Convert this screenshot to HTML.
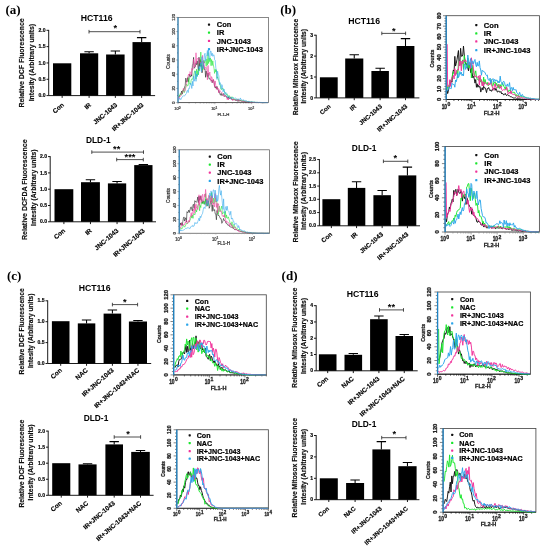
<!DOCTYPE html>
<html><head><meta charset="utf-8"><title>Figure</title>
<style>html,body{margin:0;padding:0;background:#fff}svg{display:block;filter:blur(0.3px)}text{font-family:"Liberation Sans", Arial, sans-serif}text.pl{font-family:"Liberation Serif","DejaVu Serif",serif;font-size:13px;font-weight:bold}</style></head>
<body><svg width="546" height="550" viewBox="0 0 546 550">
<rect width="546" height="550" fill="#fff"/>
<text x="96.7" y="21.2" font-size="8.7" font-weight="bold" text-anchor="middle">HCT116</text>
<rect x="53" y="63.3" width="18.3" height="32.3" fill="#000"/>
<path d="M62.15 95.6V97.9" stroke="#000" stroke-width="0.9"/>
<rect x="80" y="53.3" width="18.2" height="42.3" fill="#000"/>
<path d="M89.1 53.3V51.8M84.4 51.8H93.8" stroke="#000" stroke-width="1.05" fill="none"/>
<path d="M89.1 95.6V97.9" stroke="#000" stroke-width="0.9"/>
<rect x="106.1" y="54.5" width="18.5" height="41.1" fill="#000"/>
<path d="M115.35 54.5V50.9M110.65 50.9H120.05" stroke="#000" stroke-width="1.05" fill="none"/>
<path d="M115.35 95.6V97.9" stroke="#000" stroke-width="0.9"/>
<rect x="132.5" y="42.1" width="18.3" height="53.5" fill="#000"/>
<path d="M141.65 42.1V37.6M136.95 37.6H146.35" stroke="#000" stroke-width="1.05" fill="none"/>
<path d="M141.65 95.6V97.9" stroke="#000" stroke-width="0.9"/>
<path d="M48.7 29.92V95.6H155.1" stroke="#000" stroke-width="0.9" fill="none"/>
<path d="M46.5 95.6H48.7" stroke="#000" stroke-width="0.9"/>
<text x="45.5" y="97.2" font-size="5.1" font-weight="bold" text-anchor="end" stroke="#000" stroke-width="0.15">0.0</text>
<path d="M46.5 79.28H48.7" stroke="#000" stroke-width="0.9"/>
<text x="45.5" y="80.88" font-size="5.1" font-weight="bold" text-anchor="end" stroke="#000" stroke-width="0.15">0.5</text>
<path d="M46.5 62.96H48.7" stroke="#000" stroke-width="0.9"/>
<text x="45.5" y="64.56" font-size="5.1" font-weight="bold" text-anchor="end" stroke="#000" stroke-width="0.15">1.0</text>
<path d="M46.5 46.64H48.7" stroke="#000" stroke-width="0.9"/>
<text x="45.5" y="48.24" font-size="5.1" font-weight="bold" text-anchor="end" stroke="#000" stroke-width="0.15">1.5</text>
<path d="M46.5 30.32H48.7" stroke="#000" stroke-width="0.9"/>
<text x="45.5" y="31.92" font-size="5.1" font-weight="bold" text-anchor="end" stroke="#000" stroke-width="0.15">2.0</text>
<text transform="translate(64.55 105.6) rotate(-41)" font-size="6.45" font-weight="bold" text-anchor="end" stroke="#000" stroke-width="0.15">Con</text>
<text transform="translate(91.5 105.6) rotate(-41)" font-size="6.45" font-weight="bold" text-anchor="end" stroke="#000" stroke-width="0.15">IR</text>
<text transform="translate(117.75 105.6) rotate(-41)" font-size="6.45" font-weight="bold" text-anchor="end" stroke="#000" stroke-width="0.15">JNC-1043</text>
<text transform="translate(144.05 105.6) rotate(-41)" font-size="6.45" font-weight="bold" text-anchor="end" stroke="#000" stroke-width="0.15">IR+JNC-1043</text>
<text transform="translate(24.4 63) rotate(-90)" font-size="7.2" font-weight="bold" text-anchor="middle" textLength="89.2" lengthAdjust="spacingAndGlyphs" fill="#111" stroke="#111" stroke-width="0.18">Relative DCF Fluorescence</text>
<text transform="translate(33.5 62.6) rotate(-90)" font-size="7.2" font-weight="bold" text-anchor="middle" textLength="77.4" lengthAdjust="spacingAndGlyphs" fill="#111" stroke="#111" stroke-width="0.18">Intesity (Arbitrary units)</text>
<path d="M89 31.7H140M89 29.9V33.5M140 29.9V33.5" stroke="#222" stroke-width="0.8" fill="none"/>
<text x="115.4" y="30.9" font-size="9.3" font-weight="bold" text-anchor="middle">*</text>
<text x="98.3" y="143.1" font-size="8.4" font-weight="bold" text-anchor="middle">DLD-1</text>
<rect x="54.5" y="189.2" width="18.8" height="32.6" fill="#000"/>
<path d="M63.9 221.8V224.1" stroke="#000" stroke-width="0.9"/>
<rect x="81" y="182.2" width="18.9" height="39.6" fill="#000"/>
<path d="M90.45 182.2V179.7M85.75 179.7H95.15" stroke="#000" stroke-width="1.05" fill="none"/>
<path d="M90.45 221.8V224.1" stroke="#000" stroke-width="0.9"/>
<rect x="107.9" y="183.4" width="18.3" height="38.4" fill="#000"/>
<path d="M117.05 183.4V181.4M112.35 181.4H121.75" stroke="#000" stroke-width="1.05" fill="none"/>
<path d="M117.05 221.8V224.1" stroke="#000" stroke-width="0.9"/>
<rect x="134.2" y="165.1" width="18.3" height="56.7" fill="#000"/>
<path d="M143.35 165.1V164.5M138.65 164.5H148.05" stroke="#000" stroke-width="1.05" fill="none"/>
<path d="M143.35 221.8V224.1" stroke="#000" stroke-width="0.9"/>
<path d="M50.2 156.2V221.8H156" stroke="#000" stroke-width="0.9" fill="none"/>
<path d="M48 221.8H50.2" stroke="#000" stroke-width="0.9"/>
<text x="47" y="223.4" font-size="5.1" font-weight="bold" text-anchor="end" stroke="#000" stroke-width="0.15">0.0</text>
<path d="M48 205.5H50.2" stroke="#000" stroke-width="0.9"/>
<text x="47" y="207.1" font-size="5.1" font-weight="bold" text-anchor="end" stroke="#000" stroke-width="0.15">0.5</text>
<path d="M48 189.2H50.2" stroke="#000" stroke-width="0.9"/>
<text x="47" y="190.8" font-size="5.1" font-weight="bold" text-anchor="end" stroke="#000" stroke-width="0.15">1.0</text>
<path d="M48 172.9H50.2" stroke="#000" stroke-width="0.9"/>
<text x="47" y="174.5" font-size="5.1" font-weight="bold" text-anchor="end" stroke="#000" stroke-width="0.15">1.5</text>
<path d="M48 156.6H50.2" stroke="#000" stroke-width="0.9"/>
<text x="47" y="158.2" font-size="5.1" font-weight="bold" text-anchor="end" stroke="#000" stroke-width="0.15">2.0</text>
<text transform="translate(65.8 231.4) rotate(-41)" font-size="6.45" font-weight="bold" text-anchor="end" stroke="#000" stroke-width="0.15">Con</text>
<text transform="translate(92.35 231.4) rotate(-41)" font-size="6.45" font-weight="bold" text-anchor="end" stroke="#000" stroke-width="0.15">IR</text>
<text transform="translate(118.95 231.4) rotate(-41)" font-size="6.45" font-weight="bold" text-anchor="end" stroke="#000" stroke-width="0.15">JNC-1043</text>
<text transform="translate(145.25 231.4) rotate(-41)" font-size="6.45" font-weight="bold" text-anchor="end" stroke="#000" stroke-width="0.15">IR+JNC-1043</text>
<text transform="translate(26.8 189.7) rotate(-90)" font-size="7.2" font-weight="bold" text-anchor="middle" textLength="100.6" lengthAdjust="spacingAndGlyphs" fill="#111" stroke="#111" stroke-width="0.18">Relative DCFDA Fluorescence</text>
<text transform="translate(36.1 187.8) rotate(-90)" font-size="7.2" font-weight="bold" text-anchor="middle" textLength="76.4" lengthAdjust="spacingAndGlyphs" fill="#111" stroke="#111" stroke-width="0.18">Intesity (Arbitrary units)</text>
<path d="M91.8 152.1H143.5M91.8 150.3V153.9M143.5 150.3V153.9" stroke="#222" stroke-width="0.8" fill="none"/>
<text x="116.7" y="151.9" font-size="9.3" font-weight="bold" text-anchor="middle">**</text>
<path d="M116.7 159.6H143.3M116.7 157.8V161.4M143.3 157.8V161.4" stroke="#222" stroke-width="0.8" fill="none"/>
<text x="130" y="159.7" font-size="9.3" font-weight="bold" text-anchor="middle">***</text>
<text x="364.1" y="23.5" font-size="8.7" font-weight="bold" text-anchor="middle">HCT116</text>
<rect x="319.9" y="77.3" width="17.8" height="20.6" fill="#000"/>
<path d="M328.8 97.9V100.2" stroke="#000" stroke-width="0.9"/>
<rect x="345.2" y="58.5" width="18.1" height="39.4" fill="#000"/>
<path d="M354.25 58.5V54.7M349.55 54.7H358.95" stroke="#000" stroke-width="1.05" fill="none"/>
<path d="M354.25 97.9V100.2" stroke="#000" stroke-width="0.9"/>
<rect x="371.4" y="71" width="17.5" height="26.9" fill="#000"/>
<path d="M380.15 71V68.3M375.45 68.3H384.85" stroke="#000" stroke-width="1.05" fill="none"/>
<path d="M380.15 97.9V100.2" stroke="#000" stroke-width="0.9"/>
<rect x="396.6" y="46" width="17.8" height="51.9" fill="#000"/>
<path d="M405.5 46V38.6M400.8 38.6H410.2" stroke="#000" stroke-width="1.05" fill="none"/>
<path d="M405.5 97.9V100.2" stroke="#000" stroke-width="0.9"/>
<path d="M316.2 34.8V97.9H419.4" stroke="#000" stroke-width="0.9" fill="none"/>
<path d="M314 97.9H316.2" stroke="#000" stroke-width="0.9"/>
<text x="313" y="99.5" font-size="5.1" font-weight="bold" text-anchor="end" stroke="#000" stroke-width="0.15">0</text>
<path d="M314 77H316.2" stroke="#000" stroke-width="0.9"/>
<text x="313" y="78.6" font-size="5.1" font-weight="bold" text-anchor="end" stroke="#000" stroke-width="0.15">1</text>
<path d="M314 56.1H316.2" stroke="#000" stroke-width="0.9"/>
<text x="313" y="57.7" font-size="5.1" font-weight="bold" text-anchor="end" stroke="#000" stroke-width="0.15">2</text>
<path d="M314 35.2H316.2" stroke="#000" stroke-width="0.9"/>
<text x="313" y="36.8" font-size="5.1" font-weight="bold" text-anchor="end" stroke="#000" stroke-width="0.15">3</text>
<text transform="translate(331.2 107.1) rotate(-41)" font-size="6.2" font-weight="bold" text-anchor="end" stroke="#000" stroke-width="0.15">Con</text>
<text transform="translate(356.65 107.1) rotate(-41)" font-size="6.2" font-weight="bold" text-anchor="end" stroke="#000" stroke-width="0.15">IR</text>
<text transform="translate(382.55 107.1) rotate(-41)" font-size="6.2" font-weight="bold" text-anchor="end" stroke="#000" stroke-width="0.15">JNC-1043</text>
<text transform="translate(407.9 107.1) rotate(-41)" font-size="6.2" font-weight="bold" text-anchor="end" stroke="#000" stroke-width="0.15">IR+JNC-1043</text>
<text transform="translate(297.7 67) rotate(-90)" font-size="7.2" font-weight="bold" text-anchor="middle" textLength="96.4" lengthAdjust="spacingAndGlyphs" fill="#111" stroke="#111" stroke-width="0.18">Relative Mitosox Fluorescence</text>
<text transform="translate(305.7 66.3) rotate(-90)" font-size="7.2" font-weight="bold" text-anchor="middle" textLength="74.4" lengthAdjust="spacingAndGlyphs" fill="#111" stroke="#111" stroke-width="0.18">Intesity (Arbitrary units)</text>
<path d="M381.8 33.4H405.6M381.8 31.6V35.2M405.6 31.6V35.2" stroke="#222" stroke-width="0.8" fill="none"/>
<text x="393.8" y="34.2" font-size="9.3" font-weight="bold" text-anchor="middle">*</text>
<text x="364.2" y="151.4" font-size="8.4" font-weight="bold" text-anchor="middle">DLD-1</text>
<rect x="322.4" y="199.2" width="17.9" height="26.6" fill="#000"/>
<path d="M331.35 225.8V228.1" stroke="#000" stroke-width="0.9"/>
<rect x="347.8" y="187.9" width="17.5" height="37.9" fill="#000"/>
<path d="M356.55 187.9V181.7M351.85 181.7H361.25" stroke="#000" stroke-width="1.05" fill="none"/>
<path d="M356.55 225.8V228.1" stroke="#000" stroke-width="0.9"/>
<rect x="373.4" y="195.2" width="17.5" height="30.6" fill="#000"/>
<path d="M382.15 195.2V190.4M377.45 190.4H386.85" stroke="#000" stroke-width="1.05" fill="none"/>
<path d="M382.15 225.8V228.1" stroke="#000" stroke-width="0.9"/>
<rect x="398.5" y="175.4" width="17.8" height="50.4" fill="#000"/>
<path d="M407.4 175.4V167.1M402.7 167.1H412.1" stroke="#000" stroke-width="1.05" fill="none"/>
<path d="M407.4 225.8V228.1" stroke="#000" stroke-width="0.9"/>
<path d="M319.4 159.15V225.8H420" stroke="#000" stroke-width="0.9" fill="none"/>
<path d="M317.2 225.8H319.4" stroke="#000" stroke-width="0.9"/>
<text x="316.2" y="227.4" font-size="5.1" font-weight="bold" text-anchor="end" stroke="#000" stroke-width="0.15">0.0</text>
<path d="M317.2 212.55H319.4" stroke="#000" stroke-width="0.9"/>
<text x="316.2" y="214.15" font-size="5.1" font-weight="bold" text-anchor="end" stroke="#000" stroke-width="0.15">0.5</text>
<path d="M317.2 199.3H319.4" stroke="#000" stroke-width="0.9"/>
<text x="316.2" y="200.9" font-size="5.1" font-weight="bold" text-anchor="end" stroke="#000" stroke-width="0.15">1.0</text>
<path d="M317.2 186.05H319.4" stroke="#000" stroke-width="0.9"/>
<text x="316.2" y="187.65" font-size="5.1" font-weight="bold" text-anchor="end" stroke="#000" stroke-width="0.15">1.5</text>
<path d="M317.2 172.8H319.4" stroke="#000" stroke-width="0.9"/>
<text x="316.2" y="174.4" font-size="5.1" font-weight="bold" text-anchor="end" stroke="#000" stroke-width="0.15">2.0</text>
<path d="M317.2 159.55H319.4" stroke="#000" stroke-width="0.9"/>
<text x="316.2" y="161.15" font-size="5.1" font-weight="bold" text-anchor="end" stroke="#000" stroke-width="0.15">2.5</text>
<text transform="translate(332.75 235) rotate(-41)" font-size="6.3" font-weight="bold" text-anchor="end" stroke="#000" stroke-width="0.15">Con</text>
<text transform="translate(357.95 235) rotate(-41)" font-size="6.3" font-weight="bold" text-anchor="end" stroke="#000" stroke-width="0.15">IR</text>
<text transform="translate(383.55 235) rotate(-41)" font-size="6.3" font-weight="bold" text-anchor="end" stroke="#000" stroke-width="0.15">JNC-1043</text>
<text transform="translate(408.8 235) rotate(-41)" font-size="6.3" font-weight="bold" text-anchor="end" stroke="#000" stroke-width="0.15">IR+JNC-1043</text>
<text transform="translate(297.8 192) rotate(-90)" font-size="7.2" font-weight="bold" text-anchor="middle" textLength="101.2" lengthAdjust="spacingAndGlyphs" fill="#111" stroke="#111" stroke-width="0.18">Relative Mitosox Fluorescence</text>
<text transform="translate(305.7 191) rotate(-90)" font-size="7.2" font-weight="bold" text-anchor="middle" textLength="78" lengthAdjust="spacingAndGlyphs" fill="#111" stroke="#111" stroke-width="0.18">Intesity (Arbitrary units)</text>
<path d="M383.4 161.3H407.8M383.4 159.5V163.1M407.8 159.5V163.1" stroke="#222" stroke-width="0.8" fill="none"/>
<text x="395.2" y="161.2" font-size="9.3" font-weight="bold" text-anchor="middle">*</text>
<text x="94.6" y="290.9" font-size="8.7" font-weight="bold" text-anchor="middle">HCT116</text>
<rect x="51.9" y="321.2" width="17.6" height="42.3" fill="#000"/>
<path d="M60.7 363.5V365.8" stroke="#000" stroke-width="0.9"/>
<rect x="77.8" y="323.4" width="17.5" height="40.1" fill="#000"/>
<path d="M86.55 323.4V319.9M81.85 319.9H91.25" stroke="#000" stroke-width="1.05" fill="none"/>
<path d="M86.55 363.5V365.8" stroke="#000" stroke-width="0.9"/>
<rect x="103.6" y="313.6" width="17.6" height="49.9" fill="#000"/>
<path d="M112.4 313.6V309.9M107.7 309.9H117.1" stroke="#000" stroke-width="1.05" fill="none"/>
<path d="M112.4 363.5V365.8" stroke="#000" stroke-width="0.9"/>
<rect x="128.9" y="321.5" width="18.1" height="42" fill="#000"/>
<path d="M137.95 321.5V320.5M133.25 320.5H142.65" stroke="#000" stroke-width="1.05" fill="none"/>
<path d="M137.95 363.5V365.8" stroke="#000" stroke-width="0.9"/>
<path d="M47.7 300.4V363.5H151.2" stroke="#000" stroke-width="0.9" fill="none"/>
<path d="M45.5 363.5H47.7" stroke="#000" stroke-width="0.9"/>
<text x="44.5" y="365.1" font-size="5.1" font-weight="bold" text-anchor="end" stroke="#000" stroke-width="0.15">0.0</text>
<path d="M45.5 342.6H47.7" stroke="#000" stroke-width="0.9"/>
<text x="44.5" y="344.2" font-size="5.1" font-weight="bold" text-anchor="end" stroke="#000" stroke-width="0.15">0.5</text>
<path d="M45.5 321.7H47.7" stroke="#000" stroke-width="0.9"/>
<text x="44.5" y="323.3" font-size="5.1" font-weight="bold" text-anchor="end" stroke="#000" stroke-width="0.15">1.0</text>
<path d="M45.5 300.8H47.7" stroke="#000" stroke-width="0.9"/>
<text x="44.5" y="302.4" font-size="5.1" font-weight="bold" text-anchor="end" stroke="#000" stroke-width="0.15">1.5</text>
<text transform="translate(62.4 371) rotate(-41)" font-size="6.45" font-weight="bold" text-anchor="end" stroke="#000" stroke-width="0.15">Con</text>
<text transform="translate(88.25 371) rotate(-41)" font-size="6.45" font-weight="bold" text-anchor="end" stroke="#000" stroke-width="0.15">NAC</text>
<text transform="translate(114.1 371) rotate(-41)" font-size="6.45" font-weight="bold" text-anchor="end" stroke="#000" stroke-width="0.15">IR+JNC-1043</text>
<text transform="translate(139.65 371) rotate(-41)" font-size="6.45" font-weight="bold" text-anchor="end" stroke="#000" stroke-width="0.15">IR+JNC-1043+NAC</text>
<text transform="translate(24.4 331.4) rotate(-90)" font-size="7.2" font-weight="bold" text-anchor="middle" textLength="86" lengthAdjust="spacingAndGlyphs" fill="#111" stroke="#111" stroke-width="0.18">Relative DCF Fluorescence</text>
<text transform="translate(32.8 330.8) rotate(-90)" font-size="7.2" font-weight="bold" text-anchor="middle" textLength="74.4" lengthAdjust="spacingAndGlyphs" fill="#111" stroke="#111" stroke-width="0.18">Intesity (Arbitrary units)</text>
<path d="M112.4 304.6H137.6M112.4 302.8V306.4M137.6 302.8V306.4" stroke="#222" stroke-width="0.8" fill="none"/>
<text x="124.7" y="304.8" font-size="9.3" font-weight="bold" text-anchor="middle">*</text>
<text x="96" y="420.9" font-size="8.4" font-weight="bold" text-anchor="middle">DLD-1</text>
<rect x="52.2" y="463.2" width="18.1" height="32.1" fill="#000"/>
<path d="M61.25 495.3V497.6" stroke="#000" stroke-width="0.9"/>
<rect x="78.5" y="464.4" width="18.1" height="30.9" fill="#000"/>
<path d="M87.55 464.4V463.7M82.85 463.7H92.25" stroke="#000" stroke-width="1.05" fill="none"/>
<path d="M87.55 495.3V497.6" stroke="#000" stroke-width="0.9"/>
<rect x="105.4" y="444.4" width="17.6" height="50.9" fill="#000"/>
<path d="M114.2 444.4V441.6M109.5 441.6H118.9" stroke="#000" stroke-width="1.05" fill="none"/>
<path d="M114.2 495.3V497.6" stroke="#000" stroke-width="0.9"/>
<rect x="131.2" y="451.9" width="18.6" height="43.4" fill="#000"/>
<path d="M140.5 451.9V450.4M135.8 450.4H145.2" stroke="#000" stroke-width="1.05" fill="none"/>
<path d="M140.5 495.3V497.6" stroke="#000" stroke-width="0.9"/>
<path d="M48.2 430.7V495.3H153.6" stroke="#000" stroke-width="0.9" fill="none"/>
<path d="M46 495.3H48.2" stroke="#000" stroke-width="0.9"/>
<text x="45" y="496.9" font-size="5.1" font-weight="bold" text-anchor="end" stroke="#000" stroke-width="0.15">0.0</text>
<path d="M46 479.25H48.2" stroke="#000" stroke-width="0.9"/>
<text x="45" y="480.85" font-size="5.1" font-weight="bold" text-anchor="end" stroke="#000" stroke-width="0.15">0.5</text>
<path d="M46 463.2H48.2" stroke="#000" stroke-width="0.9"/>
<text x="45" y="464.8" font-size="5.1" font-weight="bold" text-anchor="end" stroke="#000" stroke-width="0.15">1.0</text>
<path d="M46 447.15H48.2" stroke="#000" stroke-width="0.9"/>
<text x="45" y="448.75" font-size="5.1" font-weight="bold" text-anchor="end" stroke="#000" stroke-width="0.15">1.5</text>
<path d="M46 431.1H48.2" stroke="#000" stroke-width="0.9"/>
<text x="45" y="432.7" font-size="5.1" font-weight="bold" text-anchor="end" stroke="#000" stroke-width="0.15">2.0</text>
<text transform="translate(62.45 503.9) rotate(-41)" font-size="6.45" font-weight="bold" text-anchor="end" stroke="#000" stroke-width="0.15">Con</text>
<text transform="translate(88.75 503.9) rotate(-41)" font-size="6.45" font-weight="bold" text-anchor="end" stroke="#000" stroke-width="0.15">NAC</text>
<text transform="translate(115.4 503.9) rotate(-41)" font-size="6.45" font-weight="bold" text-anchor="end" stroke="#000" stroke-width="0.15">IR+JNC-1043</text>
<text transform="translate(141.7 503.9) rotate(-41)" font-size="6.45" font-weight="bold" text-anchor="end" stroke="#000" stroke-width="0.15">IR+JNC-1043+NAC</text>
<text transform="translate(24.3 463.6) rotate(-90)" font-size="7.2" font-weight="bold" text-anchor="middle" textLength="88" lengthAdjust="spacingAndGlyphs" fill="#111" stroke="#111" stroke-width="0.18">Relative DCF Fluorescence</text>
<text transform="translate(33.4 462.4) rotate(-90)" font-size="7.2" font-weight="bold" text-anchor="middle" textLength="76" lengthAdjust="spacingAndGlyphs" fill="#111" stroke="#111" stroke-width="0.18">Intesity (Arbitrary units)</text>
<path d="M114.2 437H140.6M114.2 435.2V438.8M140.6 435.2V438.8" stroke="#222" stroke-width="0.8" fill="none"/>
<text x="128" y="437.2" font-size="9.3" font-weight="bold" text-anchor="middle">*</text>
<text x="362.6" y="296.9" font-size="8.7" font-weight="bold" text-anchor="middle">HCT116</text>
<rect x="318.9" y="354.3" width="17.6" height="16.5" fill="#000"/>
<path d="M327.7 370.8V373.1" stroke="#000" stroke-width="0.9"/>
<rect x="344.5" y="354.8" width="17.6" height="16" fill="#000"/>
<path d="M353.3 354.8V353.5M348.6 353.5H358" stroke="#000" stroke-width="1.05" fill="none"/>
<path d="M353.3 370.8V373.1" stroke="#000" stroke-width="0.9"/>
<rect x="370.1" y="319.2" width="17.6" height="51.6" fill="#000"/>
<path d="M378.9 319.2V315.9M374.2 315.9H383.6" stroke="#000" stroke-width="1.05" fill="none"/>
<path d="M378.9 370.8V373.1" stroke="#000" stroke-width="0.9"/>
<rect x="395.5" y="336" width="17.5" height="34.8" fill="#000"/>
<path d="M404.25 336V334.5M399.55 334.5H408.95" stroke="#000" stroke-width="1.05" fill="none"/>
<path d="M404.25 370.8V373.1" stroke="#000" stroke-width="0.9"/>
<path d="M316.2 305.28V370.8H417.7" stroke="#000" stroke-width="0.9" fill="none"/>
<path d="M314 370.8H316.2" stroke="#000" stroke-width="0.9"/>
<text x="313" y="372.4" font-size="5.1" font-weight="bold" text-anchor="end" stroke="#000" stroke-width="0.15">0</text>
<path d="M314 354.52H316.2" stroke="#000" stroke-width="0.9"/>
<text x="313" y="356.12" font-size="5.1" font-weight="bold" text-anchor="end" stroke="#000" stroke-width="0.15">1</text>
<path d="M314 338.24H316.2" stroke="#000" stroke-width="0.9"/>
<text x="313" y="339.84" font-size="5.1" font-weight="bold" text-anchor="end" stroke="#000" stroke-width="0.15">2</text>
<path d="M314 321.96H316.2" stroke="#000" stroke-width="0.9"/>
<text x="313" y="323.56" font-size="5.1" font-weight="bold" text-anchor="end" stroke="#000" stroke-width="0.15">3</text>
<path d="M314 305.68H316.2" stroke="#000" stroke-width="0.9"/>
<text x="313" y="307.28" font-size="5.1" font-weight="bold" text-anchor="end" stroke="#000" stroke-width="0.15">4</text>
<text transform="translate(328.7 379.4) rotate(-41)" font-size="6.45" font-weight="bold" text-anchor="end" stroke="#000" stroke-width="0.15">Con</text>
<text transform="translate(354.3 379.4) rotate(-41)" font-size="6.45" font-weight="bold" text-anchor="end" stroke="#000" stroke-width="0.15">NAC</text>
<text transform="translate(379.9 379.4) rotate(-41)" font-size="6.45" font-weight="bold" text-anchor="end" stroke="#000" stroke-width="0.15">IR+JNC-1043</text>
<text transform="translate(405.25 379.4) rotate(-41)" font-size="6.45" font-weight="bold" text-anchor="end" stroke="#000" stroke-width="0.15">IR+JNC-1043+NAC</text>
<text transform="translate(297.3 337.8) rotate(-90)" font-size="7.2" font-weight="bold" text-anchor="middle" textLength="100.4" lengthAdjust="spacingAndGlyphs" fill="#111" stroke="#111" stroke-width="0.18">Relative Mitosox Fluorescence</text>
<text transform="translate(305.7 336) rotate(-90)" font-size="7.2" font-weight="bold" text-anchor="middle" textLength="76" lengthAdjust="spacingAndGlyphs" fill="#111" stroke="#111" stroke-width="0.18">Intesity (Arbitrary units)</text>
<path d="M379.5 309.9H403.5M379.5 308.1V311.7M403.5 308.1V311.7" stroke="#222" stroke-width="0.8" fill="none"/>
<text x="391.4" y="310.1" font-size="9.3" font-weight="bold" text-anchor="middle">**</text>
<text x="364" y="427.4" font-size="8.4" font-weight="bold" text-anchor="middle">DLD-1</text>
<rect x="319.8" y="478.3" width="18" height="21.4" fill="#000"/>
<path d="M328.8 499.7V502" stroke="#000" stroke-width="0.9"/>
<rect x="346.1" y="483" width="18" height="16.7" fill="#000"/>
<path d="M355.1 483V480M350.4 480H359.8" stroke="#000" stroke-width="1.05" fill="none"/>
<path d="M355.1 499.7V502" stroke="#000" stroke-width="0.9"/>
<rect x="372.4" y="449.4" width="17.9" height="50.3" fill="#000"/>
<path d="M381.35 449.4V441.6M376.65 441.6H386.05" stroke="#000" stroke-width="1.05" fill="none"/>
<path d="M381.35 499.7V502" stroke="#000" stroke-width="0.9"/>
<rect x="398.3" y="466.2" width="18.3" height="33.5" fill="#000"/>
<path d="M407.45 466.2V462.4M402.75 462.4H412.15" stroke="#000" stroke-width="1.05" fill="none"/>
<path d="M407.45 499.7V502" stroke="#000" stroke-width="0.9"/>
<path d="M316.2 435.1V499.7H419.4" stroke="#000" stroke-width="0.9" fill="none"/>
<path d="M314 499.7H316.2" stroke="#000" stroke-width="0.9"/>
<text x="313" y="501.3" font-size="5.1" font-weight="bold" text-anchor="end" stroke="#000" stroke-width="0.15">0</text>
<path d="M314 478.3H316.2" stroke="#000" stroke-width="0.9"/>
<text x="313" y="479.9" font-size="5.1" font-weight="bold" text-anchor="end" stroke="#000" stroke-width="0.15">1</text>
<path d="M314 456.9H316.2" stroke="#000" stroke-width="0.9"/>
<text x="313" y="458.5" font-size="5.1" font-weight="bold" text-anchor="end" stroke="#000" stroke-width="0.15">2</text>
<path d="M314 435.5H316.2" stroke="#000" stroke-width="0.9"/>
<text x="313" y="437.1" font-size="5.1" font-weight="bold" text-anchor="end" stroke="#000" stroke-width="0.15">3</text>
<text transform="translate(329.7 509.3) rotate(-41)" font-size="6.2" font-weight="bold" text-anchor="end" stroke="#000" stroke-width="0.15">Con</text>
<text transform="translate(356 509.3) rotate(-41)" font-size="6.2" font-weight="bold" text-anchor="end" stroke="#000" stroke-width="0.15">NAC</text>
<text transform="translate(382.25 509.3) rotate(-41)" font-size="6.2" font-weight="bold" text-anchor="end" stroke="#000" stroke-width="0.15">IR+JNC-1043</text>
<text transform="translate(408.35 509.3) rotate(-41)" font-size="6.2" font-weight="bold" text-anchor="end" stroke="#000" stroke-width="0.15">IR+JNC-1043+NAC</text>
<text transform="translate(297.3 467.7) rotate(-90)" font-size="7.2" font-weight="bold" text-anchor="middle" textLength="99.4" lengthAdjust="spacingAndGlyphs" fill="#111" stroke="#111" stroke-width="0.18">Relative Mitosox Fluorescence</text>
<text transform="translate(305.7 466.8) rotate(-90)" font-size="7.2" font-weight="bold" text-anchor="middle" textLength="75.8" lengthAdjust="spacingAndGlyphs" fill="#111" stroke="#111" stroke-width="0.18">Intesity (Arbitrary units)</text>
<path d="M381.7 437.7H406M381.7 435.9V439.5M406 435.9V439.5" stroke="#222" stroke-width="0.8" fill="none"/>
<text x="394.2" y="436.9" font-size="9.3" font-weight="bold" text-anchor="middle">*</text>
<rect x="178" y="17.4" width="90.4" height="85.2" fill="#fff" stroke="#606060" stroke-width="0.75"/>
<path d="M178 102.6H268.4" stroke="#444" stroke-width="0.6"/>
<path d="M178 102.6v1.6M189.09 102.6v0.9M195.58 102.6v0.9M200.19 102.6v0.9M203.76 102.6v0.9M206.67 102.6v0.9M209.14 102.6v0.9M211.28 102.6v0.9M213.16 102.6v0.9M214.85 102.6v1.6M225.94 102.6v0.9M232.43 102.6v0.9M237.04 102.6v0.9M240.61 102.6v0.9M243.52 102.6v0.9M245.99 102.6v0.9M248.13 102.6v0.9M250.01 102.6v0.9M251.7 102.6v1.6M262.79 102.6v0.9" stroke="#444" stroke-width="0.4" fill="none"/>
<text x="178.6" y="110.2" font-size="4.3" text-anchor="end" textLength="4.3" lengthAdjust="spacingAndGlyphs" fill="#333" stroke="#333" stroke-width="0.22">10</text>
<text x="178.7" y="108.65" font-size="3.44" text-anchor="start" textLength="1.72" lengthAdjust="spacingAndGlyphs" fill="#333" stroke="#333" stroke-width="0.22">0</text>
<text x="215.45" y="110.2" font-size="4.3" text-anchor="end" textLength="4.3" lengthAdjust="spacingAndGlyphs" fill="#333" stroke="#333" stroke-width="0.22">10</text>
<text x="215.55" y="108.65" font-size="3.44" text-anchor="start" textLength="1.72" lengthAdjust="spacingAndGlyphs" fill="#333" stroke="#333" stroke-width="0.22">1</text>
<text x="252.3" y="110.2" font-size="4.3" text-anchor="end" textLength="4.3" lengthAdjust="spacingAndGlyphs" fill="#333" stroke="#333" stroke-width="0.22">10</text>
<text x="252.4" y="108.65" font-size="3.44" text-anchor="start" textLength="1.72" lengthAdjust="spacingAndGlyphs" fill="#333" stroke="#333" stroke-width="0.22">2</text>
<text x="223.4" y="115.8" font-size="4.3" text-anchor="middle" fill="#333" stroke="#333" stroke-width="0.22">FL1-H</text>
<text transform="translate(174.6 102.6) rotate(-90)" font-size="3.96" text-anchor="middle" fill="#333" stroke="#333" stroke-width="0.22">0</text>
<text transform="translate(174.6 88.4) rotate(-90)" font-size="3.96" text-anchor="middle" fill="#333" stroke="#333" stroke-width="0.22">20</text>
<text transform="translate(174.6 74.2) rotate(-90)" font-size="3.96" text-anchor="middle" fill="#333" stroke="#333" stroke-width="0.22">40</text>
<text transform="translate(174.6 60) rotate(-90)" font-size="3.96" text-anchor="middle" fill="#333" stroke="#333" stroke-width="0.22">60</text>
<text transform="translate(174.6 45.8) rotate(-90)" font-size="3.96" text-anchor="middle" fill="#333" stroke="#333" stroke-width="0.22">80</text>
<text transform="translate(174.6 31.6) rotate(-90)" font-size="3.96" text-anchor="middle" fill="#333" stroke="#333" stroke-width="0.22">100</text>
<text transform="translate(174.6 17.4) rotate(-90)" font-size="3.96" text-anchor="middle" fill="#333" stroke="#333" stroke-width="0.22">120</text>
<path d="M176.2 102.6H178M177 95.5H178M176.2 88.4H178M177 81.3H178M176.2 74.2H178M177 67.1H178M176.2 60H178M177 52.9H178M176.2 45.8H178M177 38.7H178M176.2 31.6H178M177 24.5H178M176.2 17.4H178" stroke="#333" stroke-width="0.4" fill="none"/>
<text transform="translate(170 61.5) rotate(-90)" font-size="4.51" text-anchor="middle" fill="#333" stroke="#333" stroke-width="0.22">Counts</text>
<path d="M178.7 97.03 179.2 96.72 179.8 95.43 180.4 94.83 181 93.61 181.6 91.09 182.2 94.05 182.8 90.74 183.4 89.95 184 89.66 184.6 86.9 185.2 85.4 185.8 78.08 186.4 82.03 187 81.49 187.6 77.65 188.2 81.91 188.8 79.31 189.4 74.29 190 76.48 190.6 76.96 191.2 74.36 191.8 76.16 192.4 65.55 193 63.91 193.6 57.35 194.2 68.3 194.8 67.29 195.4 66.51 196 62.82 196.6 64.64 197.2 60.94 197.8 65.57 198.4 70.44 199 57.24 199.6 66.55 200.2 59.56 200.8 66.39 201.4 64.72 202 72.88 202.6 70.48 203.2 65.4 203.8 65.33 204.4 69.45 205 68.79 205.6 77.3 206.2 71.01 206.8 74.6 207.4 76.81 208 72.96 208.6 76.72 209.2 79.14 209.8 78.59 210.4 79.62 211 80.34 211.6 80.35 212.2 82.81 212.8 80.26 213.4 79.72 214 82.21 214.6 86.36 215.2 87.9 215.8 86.57 216.4 88.65 217 86.42 217.6 89.41 218.2 89.75 218.8 92.19 219.4 91.63 220 94.17 220.6 95.23 221.2 93.35 221.8 95.6 222.4 95.37 223 93.99 223.6 93.63 224.2 95.77 224.8 96.63 225.4 95.73 226 95.88 226.6 96.61 227.2 98.13 227.8 98.03 228.4 97 229 98.93 229.6 98.22 230.2 97.57 230.8 97.93 231.4 99.28 232 99.2 232.6 99.32 233.2 100.02 233.8 99.45 234.4 100.13 235 99.47 235.6 100.49 236.2 100.39 236.8 100.5 237.4 100.33 238 101.54 238.6 100.21 239.2 100.81 239.8 100.79 240.4 100.52 241 101.06 241.6 101.04 242.2 101.23 242.8 101.13 243.4 101.28 244 101.27 244.6 101.65 245.2 101.94 245.8 101.74 246.4 102.07 247 101.93 247.6 102.05 248.2 102.36 248.8 102.15 249.4 102.28 250 102.35 250.6 102.43 251.2 102.24 251.8 102.27 252.4 102.44 253 102.45 253.6 102.46 254.2 102.49 254.8 102.42 255.4 102.52 256 102.45 256.6 102.59 257.2 102.57 257.8 102.5 258.4 102.55 259 102.6 259.6 102.48 260.2 102.54 260.8 102.56 261.4 102.6 262 102.55 262.6 102.58 263.2 102.59 263.8 102.6 264.4 102.6 265 102.6 265.6 102.58 266.2 102.56 266.8 102.58 267.4 102.58 268 102.59" stroke="#111111" stroke-width="0.55" fill="none" stroke-linejoin="round"/>
<path d="M178.7 96.52 179.2 96.93 179.8 94.57 180.4 93.21 181 94.57 181.6 95.16 182.2 92.74 182.8 91.23 183.4 89.48 184 92.68 184.6 92.19 185.2 87.72 185.8 87.33 186.4 84.26 187 84.48 187.6 85.99 188.2 85.53 188.8 77.65 189.4 83.8 190 84.22 190.6 84.33 191.2 79.98 191.8 78.86 192.4 79.38 193 77.56 193.6 75.52 194.2 73.14 194.8 70.74 195.4 72.81 196 79.07 196.6 69.11 197.2 76.17 197.8 70.6 198.4 74.9 199 68.27 199.6 70.67 200.2 65.85 200.8 52.09 201.4 65.56 202 61.06 202.6 69.96 203.2 64.88 203.8 60.14 204.4 63.09 205 60.6 205.6 61.49 206.2 66.33 206.8 58.85 207.4 65.09 208 52.47 208.6 63.54 209.2 58.17 209.8 61.71 210.4 57.93 211 65.73 211.6 59.52 212.2 65.53 212.8 60.88 213.4 64.96 214 68.38 214.6 73.42 215.2 69.2 215.8 71.99 216.4 69.77 217 78.11 217.6 76.87 218.2 78.71 218.8 80.97 219.4 82.72 220 84.27 220.6 87.42 221.2 89.52 221.8 89.39 222.4 88.68 223 88.23 223.6 90.22 224.2 91.1 224.8 92.38 225.4 93.28 226 94.62 226.6 94.54 227.2 94.02 227.8 96.74 228.4 97.48 229 95.38 229.6 97.28 230.2 96.97 230.8 97.34 231.4 99.14 232 96.68 232.6 97.4 233.2 98.72 233.8 98.5 234.4 99.07 235 99.84 235.6 99.51 236.2 99.36 236.8 99.09 237.4 99.46 238 99.93 238.6 99.42 239.2 100.57 239.8 99.97 240.4 99.97 241 100.7 241.6 101.41 242.2 101.15 242.8 100.84 243.4 100.85 244 100.64 244.6 101.54 245.2 101.34 245.8 101.26 246.4 101.57 247 102.17 247.6 101.52 248.2 101.3 248.8 101.66 249.4 102.08 250 102.05 250.6 102.01 251.2 101.75 251.8 102.07 252.4 102.18 253 102.07 253.6 102.29 254.2 102.15 254.8 102.4 255.4 102.41 256 102.36 256.6 102.34 257.2 102.42 257.8 102.45 258.4 102.56 259 102.53 259.6 102.53 260.2 102.54 260.8 102.52 261.4 102.56 262 102.53 262.6 102.56 263.2 102.58 263.8 102.57 264.4 102.56 265 102.55 265.6 102.6 266.2 102.59 266.8 102.6 267.4 102.54 268 102.54" stroke="#19e62d" stroke-width="0.55" fill="none" stroke-linejoin="round"/>
<path d="M178.7 98.34 179.2 98.61 179.8 96.4 180.4 96.19 181 95.66 181.6 92.96 182.2 93.19 182.8 92.7 183.4 88.22 184 90.96 184.6 91.31 185.2 90.46 185.8 87.47 186.4 83.38 187 81.39 187.6 79.05 188.2 75.39 188.8 73.99 189.4 75.51 190 71.64 190.6 72.23 191.2 74.98 191.8 68.44 192.4 69.85 193 69.56 193.6 59.26 194.2 63.01 194.8 67.25 195.4 64.51 196 52.79 196.6 63.68 197.2 58.54 197.8 58.57 198.4 58.73 199 58.18 199.6 63.18 200.2 63.18 200.8 61.94 201.4 63.16 202 58.16 202.6 55.34 203.2 67.06 203.8 61.29 204.4 68.84 205 68.39 205.6 67.36 206.2 66.92 206.8 70.2 207.4 79.8 208 65.43 208.6 72.91 209.2 75.41 209.8 72.01 210.4 77.61 211 81.45 211.6 76.59 212.2 78.09 212.8 82.89 213.4 79.44 214 81.91 214.6 86.81 215.2 80.94 215.8 85.52 216.4 89.54 217 87.14 217.6 88.72 218.2 88.04 218.8 92.97 219.4 89.66 220 90.61 220.6 91.71 221.2 92.5 221.8 92.16 222.4 93.54 223 94.79 223.6 96.37 224.2 94.58 224.8 95.16 225.4 96.25 226 96.73 226.6 96.5 227.2 99.68 227.8 97.43 228.4 99.99 229 97.98 229.6 97.57 230.2 97.19 230.8 99.08 231.4 98.64 232 99.14 232.6 100.65 233.2 98.97 233.8 99.57 234.4 99.67 235 100.36 235.6 100.01 236.2 100.08 236.8 99.65 237.4 100.25 238 99 238.6 100.79 239.2 100.85 239.8 100.88 240.4 101.25 241 100.57 241.6 100.98 242.2 101.66 242.8 101.35 243.4 101.17 244 101.91 244.6 101.61 245.2 101.77 245.8 101.33 246.4 101.79 247 102 247.6 102.08 248.2 101.77 248.8 102.17 249.4 101.87 250 102.38 250.6 102.26 251.2 102.3 251.8 102.38 252.4 102.36 253 102.33 253.6 102.45 254.2 102.51 254.8 102.38 255.4 102.4 256 102.51 256.6 102.49 257.2 102.6 257.8 102.49 258.4 102.58 259 102.56 259.6 102.48 260.2 102.6 260.8 102.56 261.4 102.6 262 102.6 262.6 102.6 263.2 102.57 263.8 102.6 264.4 102.6 265 102.56 265.6 102.6 266.2 102.6 266.8 102.54 267.4 102.59 268 102.55" stroke="#f0329a" stroke-width="0.55" fill="none" stroke-linejoin="round"/>
<path d="M178.7 100.04 179.2 99.52 179.8 98.15 180.4 99.3 181 99.69 181.6 97.67 182.2 96.85 182.8 96.52 183.4 95.8 184 95.85 184.6 95.79 185.2 95.36 185.8 93.98 186.4 93.47 187 90.68 187.6 90.25 188.2 92.57 188.8 88.15 189.4 88.52 190 85.13 190.6 83.1 191.2 84.01 191.8 88.49 192.4 81.34 193 85.99 193.6 76.19 194.2 81.27 194.8 78.65 195.4 70.98 196 81.35 196.6 74.09 197.2 76.73 197.8 73.51 198.4 73.35 199 66.33 199.6 68.98 200.2 65.08 200.8 62.57 201.4 71.69 202 56.73 202.6 63.09 203.2 68.72 203.8 63.13 204.4 54.84 205 53.31 205.6 60.95 206.2 56.31 206.8 55.01 207.4 50.38 208 56.01 208.6 49.84 209.2 59.43 209.8 58.39 210.4 51.05 211 51.02 211.6 55.64 212.2 53.14 212.8 56.33 213.4 54.96 214 54.77 214.6 59.71 215.2 60.4 215.8 67.78 216.4 70.51 217 79.48 217.6 71.19 218.2 74.77 218.8 75.35 219.4 84.73 220 82.51 220.6 84.52 221.2 89.18 221.8 84.56 222.4 85.61 223 91.87 223.6 89.99 224.2 89.14 224.8 94.67 225.4 92.42 226 92.53 226.6 93 227.2 97.29 227.8 97.37 228.4 96.47 229 95.89 229.6 98.46 230.2 98.22 230.8 98.72 231.4 97.07 232 98.57 232.6 97.82 233.2 97.9 233.8 97.65 234.4 98.32 235 98.49 235.6 98.04 236.2 98.62 236.8 99.88 237.4 99.51 238 98.71 238.6 99.31 239.2 99.73 239.8 99.5 240.4 97.95 241 99.92 241.6 99.78 242.2 99.93 242.8 100.41 243.4 99.88 244 100.18 244.6 100.51 245.2 101.31 245.8 100.45 246.4 100.77 247 101.17 247.6 102.07 248.2 101.37 248.8 101.78 249.4 101.61 250 101.76 250.6 101.9 251.2 101.6 251.8 101.86 252.4 101.74 253 102.16 253.6 102.1 254.2 101.95 254.8 102.14 255.4 102.3 256 102.35 256.6 102.36 257.2 102.34 257.8 102.32 258.4 102.39 259 102.38 259.6 102.4 260.2 102.46 260.8 102.43 261.4 102.47 262 102.52 262.6 102.53 263.2 102.54 263.8 102.57 264.4 102.6 265 102.56 265.6 102.58 266.2 102.55 266.8 102.59 267.4 102.57 268 102.57" stroke="#2aa5ea" stroke-width="0.55" fill="none" stroke-linejoin="round"/>
<path d="M178 17.4V102.6" stroke="#1f83c4" stroke-width="1.0"/>
<rect x="207.9" y="23.5" width="2.2" height="2.2" rx="0.6" fill="#111111"/>
<text x="216.8" y="27.2" font-size="7.5" font-weight="bold" stroke="#000" stroke-width="0.2">Con</text>
<rect x="207.9" y="31.5" width="2.2" height="2.2" rx="0.6" fill="#19e62d"/>
<text x="216.8" y="35.2" font-size="7.5" font-weight="bold" stroke="#000" stroke-width="0.2">IR</text>
<rect x="207.9" y="39.8" width="2.2" height="2.2" rx="0.6" fill="#f0329a"/>
<text x="216.8" y="43.5" font-size="7.5" font-weight="bold" stroke="#000" stroke-width="0.2">JNC-1043</text>
<rect x="207.9" y="48.1" width="2.2" height="2.2" rx="0.6" fill="#2aa5ea"/>
<text x="216.8" y="51.8" font-size="7.5" font-weight="bold" stroke="#000" stroke-width="0.2">IR+JNC-1043</text>
<rect x="179.2" y="149.8" width="90.3" height="83.5" fill="#fff" stroke="#606060" stroke-width="0.75"/>
<path d="M179.2 233.3H269.5" stroke="#999" stroke-width="0.6"/>
<path d="M179.2 233.3v1.6M190.25 233.3v0.9M196.71 233.3v0.9M201.3 233.3v0.9M204.85 233.3v0.9M207.76 233.3v0.9M210.22 233.3v0.9M212.34 233.3v0.9M214.22 233.3v0.9M215.9 233.3v1.6M226.95 233.3v0.9M233.41 233.3v0.9M238 233.3v0.9M241.55 233.3v0.9M244.46 233.3v0.9M246.92 233.3v0.9M249.04 233.3v0.9M250.92 233.3v0.9M252.6 233.3v1.6M263.65 233.3v0.9" stroke="#999" stroke-width="0.4" fill="none"/>
<text x="179.8" y="240.5" font-size="4.5" text-anchor="end" textLength="4.5" lengthAdjust="spacingAndGlyphs" fill="#333" stroke="#333" stroke-width="0.22">10</text>
<text x="179.9" y="238.88" font-size="3.6" text-anchor="start" textLength="1.8" lengthAdjust="spacingAndGlyphs" fill="#333" stroke="#333" stroke-width="0.22">0</text>
<text x="216.5" y="240.5" font-size="4.5" text-anchor="end" textLength="4.5" lengthAdjust="spacingAndGlyphs" fill="#333" stroke="#333" stroke-width="0.22">10</text>
<text x="216.6" y="238.88" font-size="3.6" text-anchor="start" textLength="1.8" lengthAdjust="spacingAndGlyphs" fill="#333" stroke="#333" stroke-width="0.22">1</text>
<text x="253.2" y="240.5" font-size="4.5" text-anchor="end" textLength="4.5" lengthAdjust="spacingAndGlyphs" fill="#333" stroke="#333" stroke-width="0.22">10</text>
<text x="253.3" y="238.88" font-size="3.6" text-anchor="start" textLength="1.8" lengthAdjust="spacingAndGlyphs" fill="#333" stroke="#333" stroke-width="0.22">2</text>
<text x="223.8" y="245.4" font-size="4.5" text-anchor="middle" fill="#333" stroke="#333" stroke-width="0.22">FL1-H</text>
<text transform="translate(175.8 233.3) rotate(-90)" font-size="4.14" text-anchor="middle" fill="#333" stroke="#333" stroke-width="0.22">0</text>
<text transform="translate(175.8 219.38) rotate(-90)" font-size="4.14" text-anchor="middle" fill="#333" stroke="#333" stroke-width="0.22">20</text>
<text transform="translate(175.8 205.47) rotate(-90)" font-size="4.14" text-anchor="middle" fill="#333" stroke="#333" stroke-width="0.22">40</text>
<text transform="translate(175.8 191.55) rotate(-90)" font-size="4.14" text-anchor="middle" fill="#333" stroke="#333" stroke-width="0.22">60</text>
<text transform="translate(175.8 177.63) rotate(-90)" font-size="4.14" text-anchor="middle" fill="#333" stroke="#333" stroke-width="0.22">80</text>
<text transform="translate(175.8 163.72) rotate(-90)" font-size="4.14" text-anchor="middle" fill="#333" stroke="#333" stroke-width="0.22">100</text>
<text transform="translate(175.8 149.8) rotate(-90)" font-size="4.14" text-anchor="middle" fill="#333" stroke="#333" stroke-width="0.22">120</text>
<path d="M177.4 233.3H179.2M178.2 226.34H179.2M177.4 219.38H179.2M178.2 212.43H179.2M177.4 205.47H179.2M178.2 198.51H179.2M177.4 191.55H179.2M178.2 184.59H179.2M177.4 177.63H179.2M178.2 170.68H179.2M177.4 163.72H179.2M178.2 156.76H179.2M177.4 149.8H179.2" stroke="#333" stroke-width="0.4" fill="none"/>
<text transform="translate(170.4 195.5) rotate(-90)" font-size="4.73" text-anchor="middle" fill="#333" stroke="#333" stroke-width="0.22">Counts</text>
<path d="M179.9 225.8 180.4 222.93 181 224.93 181.6 222.76 182.2 225.51 182.8 221.66 183.4 218.36 184 216.95 184.6 221.09 185.2 219.17 185.8 217.76 186.4 222 187 211.68 187.6 212.84 188.2 212.24 188.8 210 189.4 212.5 190 210.12 190.6 207.51 191.2 206.8 191.8 209.49 192.4 210.98 193 204.57 193.6 204.46 194.2 208.44 194.8 200.66 195.4 201.62 196 201.72 196.6 202.35 197.2 200.33 197.8 196.97 198.4 202.71 199 196.17 199.6 200.33 200.2 199.66 200.8 195.74 201.4 200.4 202 199.72 202.6 203.3 203.2 201.52 203.8 201.21 204.4 203.78 205 204.55 205.6 199.42 206.2 199.28 206.8 206.25 207.4 205.83 208 201.54 208.6 200.92 209.2 208.31 209.8 206.82 210.4 202.66 211 200.89 211.6 204.48 212.2 211.38 212.8 204.93 213.4 209.4 214 210.72 214.6 209.54 215.2 213.75 215.8 213.91 216.4 219.77 217 210.47 217.6 213.46 218.2 215.7 218.8 215.35 219.4 216.23 220 217.85 220.6 218.9 221.2 218.76 221.8 223.34 222.4 222.43 223 220.64 223.6 218.4 224.2 220.52 224.8 220.66 225.4 221.39 226 223.31 226.6 223.13 227.2 224.12 227.8 225.16 228.4 225.13 229 225.11 229.6 226.51 230.2 227.2 230.8 226.67 231.4 227.23 232 227.47 232.6 227.07 233.2 228.21 233.8 228.7 234.4 229.45 235 230.02 235.6 229.25 236.2 229.49 236.8 229.81 237.4 230.06 238 230.84 238.6 230.58 239.2 230.88 239.8 230.89 240.4 231.49 241 231.07 241.6 231.29 242.2 232.07 242.8 231.93 243.4 232.02 244 232.01 244.6 231.94 245.2 232.68 245.8 232.21 246.4 232.38 247 232.65 247.6 232.73 248.2 232.62 248.8 232.79 249.4 232.87 250 232.9 250.6 232.7 251.2 233.12 251.8 232.82 252.4 233.14 253 232.96 253.6 233.1 254.2 233.09 254.8 233.15 255.4 233.15 256 233.09 256.6 233.2 257.2 233.27 257.8 233.21 258.4 233.29 259 233.24 259.6 233.23 260.2 233.26 260.8 233.26 261.4 233.2 262 233.19 262.6 233.21 263.2 233.22 263.8 233.26 264.4 233.3 265 233.3 265.6 233.3 266.2 233.3 266.8 233.3 267.4 233.27 268 233.25 268.6 233.28 269.2 233.27" stroke="#111111" stroke-width="0.55" fill="none" stroke-linejoin="round"/>
<path d="M179.9 229.72 180.4 228.51 181 227.71 181.6 228.9 182.2 228.61 182.8 227.11 183.4 225.34 184 226.07 184.6 227.19 185.2 226.28 185.8 224.92 186.4 223.08 187 223.66 187.6 223.5 188.2 222.67 188.8 221.39 189.4 222.13 190 220.2 190.6 218.99 191.2 215.69 191.8 218 192.4 215.17 193 218.39 193.6 213.6 194.2 214.24 194.8 214.99 195.4 212.96 196 209.84 196.6 212.02 197.2 207.67 197.8 205.42 198.4 204.21 199 203.28 199.6 210.77 200.2 205.28 200.8 207.62 201.4 201.88 202 203.89 202.6 202.73 203.2 201.31 203.8 204.21 204.4 201.36 205 203.64 205.6 193.51 206.2 201.91 206.8 199.89 207.4 205.91 208 204.67 208.6 202.2 209.2 196.18 209.8 196.18 210.4 197.92 211 201.28 211.6 192.41 212.2 202.93 212.8 202.55 213.4 198.09 214 203.68 214.6 199.7 215.2 197.8 215.8 201.92 216.4 200.95 217 202.84 217.6 205.84 218.2 214.41 218.8 208.98 219.4 206.07 220 211.72 220.6 209.4 221.2 208.12 221.8 206.03 222.4 214.11 223 212.82 223.6 211.89 224.2 212.15 224.8 217.44 225.4 211.23 226 217.88 226.6 214.93 227.2 218.37 227.8 218.12 228.4 216.83 229 219.37 229.6 221.14 230.2 223.6 230.8 223.78 231.4 225.46 232 221.75 232.6 226.74 233.2 228.39 233.8 224.43 234.4 225.45 235 227.55 235.6 227.01 236.2 228.84 236.8 229.05 237.4 228.69 238 229.17 238.6 230.04 239.2 229.22 239.8 230.04 240.4 230.62 241 231.45 241.6 231.13 242.2 231.51 242.8 231.62 243.4 231.54 244 232.1 244.6 232.03 245.2 232.05 245.8 232.28 246.4 232.03 247 232.85 247.6 232.66 248.2 232.89 248.8 232.8 249.4 232.58 250 233.08 250.6 232.99 251.2 232.95 251.8 233.04 252.4 233.02 253 233.2 253.6 233.09 254.2 233.2 254.8 233.23 255.4 233.18 256 233.2 256.6 233.25 257.2 233.26 257.8 233.25 258.4 233.25 259 233.26 259.6 233.3 260.2 233.3 260.8 233.24 261.4 233.27 262 233.3 262.6 233.3 263.2 233.3 263.8 233.3 264.4 233.3 265 233.25 265.6 233.28 266.2 233.3 266.8 233.29 267.4 233.29 268 233.27 268.6 233.29 269.2 233.26" stroke="#19e62d" stroke-width="0.55" fill="none" stroke-linejoin="round"/>
<path d="M179.9 228.55 180.4 227.18 181 227.35 181.6 222.86 182.2 225.56 182.8 225.36 183.4 224.42 184 225.12 184.6 224.83 185.2 222.22 185.8 223.11 186.4 220.2 187 221.27 187.6 223.57 188.2 221.98 188.8 220.3 189.4 222.07 190 216.93 190.6 216.58 191.2 212.61 191.8 216.35 192.4 213.8 193 210.62 193.6 209.17 194.2 213.52 194.8 204.76 195.4 210.63 196 203.78 196.6 207.89 197.2 207.49 197.8 209.65 198.4 204.88 199 194.77 199.6 205.36 200.2 196.32 200.8 196.4 201.4 202.58 202 195.98 202.6 194.32 203.2 200.82 203.8 201.4 204.4 194.17 205 197.11 205.6 189.4 206.2 196.44 206.8 203.14 207.4 198.43 208 203.34 208.6 195.23 209.2 195.64 209.8 200.61 210.4 202.89 211 195.87 211.6 201.55 212.2 195.55 212.8 204.95 213.4 202.71 214 204.38 214.6 206.89 215.2 193.52 215.8 198.29 216.4 207.46 217 203.27 217.6 213.01 218.2 203.6 218.8 205.14 219.4 210.6 220 211.5 220.6 210.63 221.2 210.96 221.8 214.17 222.4 216.33 223 215.65 223.6 216.93 224.2 214.93 224.8 217.43 225.4 217.96 226 222.7 226.6 220.85 227.2 221.61 227.8 222.56 228.4 222.57 229 223.55 229.6 226.05 230.2 223.06 230.8 223.78 231.4 226.26 232 225.42 232.6 227.75 233.2 228.53 233.8 227.88 234.4 226.7 235 228.64 235.6 230.17 236.2 229.13 236.8 230.06 237.4 230.44 238 230.07 238.6 231.52 239.2 231.73 239.8 231.74 240.4 230.79 241 231.42 241.6 231.87 242.2 232.05 242.8 231.76 243.4 231.75 244 232.42 244.6 232.29 245.2 231.94 245.8 232.43 246.4 232.69 247 232.65 247.6 232.76 248.2 232.75 248.8 232.85 249.4 233 250 233 250.6 232.99 251.2 233.11 251.8 233.09 252.4 233.18 253 233.07 253.6 233.08 254.2 233.22 254.8 233.16 255.4 233.21 256 233.22 256.6 233.24 257.2 233.23 257.8 233.22 258.4 233.3 259 233.23 259.6 233.28 260.2 233.3 260.8 233.28 261.4 233.26 262 233.29 262.6 233.28 263.2 233.3 263.8 233.3 264.4 233.26 265 233.3 265.6 233.26 266.2 233.28 266.8 233.3 267.4 233.3 268 233.3 268.6 233.3 269.2 233.3" stroke="#f0329a" stroke-width="0.55" fill="none" stroke-linejoin="round"/>
<path d="M179.9 231.02 180.4 229.69 181 231.08 181.6 230.19 182.2 230.31 182.8 230.48 183.4 230.13 184 229.91 184.6 229.44 185.2 228.9 185.8 228.23 186.4 228.57 187 227.65 187.6 227.9 188.2 227.92 188.8 227.93 189.4 228.33 190 228.64 190.6 226.93 191.2 226.68 191.8 225.82 192.4 225.41 193 226.8 193.6 225.77 194.2 225.83 194.8 222.61 195.4 223.51 196 222.57 196.6 223.44 197.2 223.38 197.8 221.57 198.4 219.95 199 218.04 199.6 220.88 200.2 216.26 200.8 217.7 201.4 215.91 202 214.33 202.6 213.38 203.2 209.84 203.8 207.33 204.4 207.39 205 208.58 205.6 204.29 206.2 202.99 206.8 199.94 207.4 200.52 208 205.88 208.6 201.64 209.2 199.17 209.8 192.96 210.4 196.03 211 190.89 211.6 192.56 212.2 198.02 212.8 192.35 213.4 189.81 214 190.19 214.6 198.15 215.2 190.11 215.8 194.61 216.4 201.3 217 195.19 217.6 201.44 218.2 199.05 218.8 188.66 219.4 185.39 220 191.83 220.6 195.17 221.2 190.61 221.8 197.47 222.4 203.28 223 209.43 223.6 198.85 224.2 210.55 224.8 213.44 225.4 207.49 226 206.47 226.6 210.37 227.2 206.21 227.8 210.55 228.4 210.99 229 211.63 229.6 215.25 230.2 214.58 230.8 211.25 231.4 219.13 232 218 232.6 218.4 233.2 221.24 233.8 221.35 234.4 224.74 235 223.65 235.6 223.79 236.2 223.25 236.8 224.27 237.4 226.65 238 227.78 238.6 225.6 239.2 227.08 239.8 229.86 240.4 229.08 241 229.88 241.6 230.06 242.2 231.03 242.8 230.62 243.4 230.96 244 231.11 244.6 230.86 245.2 231.42 245.8 232.1 246.4 232.4 247 232.21 247.6 231.95 248.2 232.16 248.8 232.59 249.4 232.39 250 232.61 250.6 232.84 251.2 232.78 251.8 232.91 252.4 233.06 253 233.04 253.6 233.04 254.2 233 254.8 233.18 255.4 233.13 256 233.17 256.6 233.19 257.2 233.25 257.8 233.18 258.4 233.2 259 233.2 259.6 233.24 260.2 233.22 260.8 233.25 261.4 233.24 262 233.29 262.6 233.28 263.2 233.3 263.8 233.3 264.4 233.3 265 233.3 265.6 233.3 266.2 233.3 266.8 233.3 267.4 233.24 268 233.24 268.6 233.27 269.2 233.28" stroke="#2aa5ea" stroke-width="0.55" fill="none" stroke-linejoin="round"/>
<path d="M179.2 149.8V233.3" stroke="#1f83c4" stroke-width="1.0"/>
<rect x="208.7" y="155.5" width="2.2" height="2.2" rx="0.6" fill="#111111"/>
<text x="217.3" y="159.2" font-size="7.5" font-weight="bold" stroke="#000" stroke-width="0.2">Con</text>
<rect x="208.7" y="163.5" width="2.2" height="2.2" rx="0.6" fill="#19e62d"/>
<text x="217.3" y="167.2" font-size="7.5" font-weight="bold" stroke="#000" stroke-width="0.2">IR</text>
<rect x="208.7" y="171.5" width="2.2" height="2.2" rx="0.6" fill="#f0329a"/>
<text x="217.3" y="175.2" font-size="7.5" font-weight="bold" stroke="#000" stroke-width="0.2">JNC-1043</text>
<rect x="208.7" y="179.8" width="2.2" height="2.2" rx="0.6" fill="#2aa5ea"/>
<text x="217.3" y="183.5" font-size="7.5" font-weight="bold" stroke="#000" stroke-width="0.2">IR+JNC-1043</text>
<rect x="446.2" y="15.7" width="93.2" height="83.8" fill="#fff" stroke="#4a4a4a" stroke-width="0.85"/>
<path d="M446.2 99.5H539.4" stroke="#111" stroke-width="0.9"/>
<path d="M446.2 99.5v2.6M453.92 99.5v1.5M458.44 99.5v1.5M461.64 99.5v1.5M464.13 99.5v1.5M466.16 99.5v1.5M467.88 99.5v1.5M469.36 99.5v1.5M470.68 99.5v1.5M471.85 99.5v2.6M479.57 99.5v1.5M484.09 99.5v1.5M487.29 99.5v1.5M489.78 99.5v1.5M491.81 99.5v1.5M493.53 99.5v1.5M495.01 99.5v1.5M496.33 99.5v1.5M497.5 99.5v2.6M505.22 99.5v1.5M509.74 99.5v1.5M512.94 99.5v1.5M515.43 99.5v1.5M517.46 99.5v1.5M519.18 99.5v1.5M520.66 99.5v1.5M521.98 99.5v1.5M523.15 99.5v2.6M530.87 99.5v1.5M535.39 99.5v1.5M538.59 99.5v1.5" stroke="#111" stroke-width="0.7" fill="none"/>
<text x="447.1" y="108.7" font-size="6.3" font-weight="bold" text-anchor="end" textLength="5.47" lengthAdjust="spacingAndGlyphs" fill="#222" stroke="#222" stroke-width="0.3">10</text>
<text x="447.4" y="106.05" font-size="5.8" font-weight="bold" text-anchor="start" textLength="2.84" lengthAdjust="spacingAndGlyphs" fill="#222" stroke="#222" stroke-width="0.3">0</text>
<text x="472.75" y="108.7" font-size="6.3" font-weight="bold" text-anchor="end" textLength="5.47" lengthAdjust="spacingAndGlyphs" fill="#222" stroke="#222" stroke-width="0.3">10</text>
<text x="473.05" y="106.05" font-size="5.8" font-weight="bold" text-anchor="start" textLength="2.84" lengthAdjust="spacingAndGlyphs" fill="#222" stroke="#222" stroke-width="0.3">1</text>
<text x="498.4" y="108.7" font-size="6.3" font-weight="bold" text-anchor="end" textLength="5.47" lengthAdjust="spacingAndGlyphs" fill="#222" stroke="#222" stroke-width="0.3">10</text>
<text x="498.7" y="106.05" font-size="5.8" font-weight="bold" text-anchor="start" textLength="2.84" lengthAdjust="spacingAndGlyphs" fill="#222" stroke="#222" stroke-width="0.3">2</text>
<text x="524.05" y="108.7" font-size="6.3" font-weight="bold" text-anchor="end" textLength="5.47" lengthAdjust="spacingAndGlyphs" fill="#222" stroke="#222" stroke-width="0.3">10</text>
<text x="524.35" y="106.05" font-size="5.8" font-weight="bold" text-anchor="start" textLength="2.84" lengthAdjust="spacingAndGlyphs" fill="#222" stroke="#222" stroke-width="0.3">3</text>
<text x="491.7" y="115.2" font-size="5.9" font-weight="bold" text-anchor="middle" textLength="15.71" lengthAdjust="spacingAndGlyphs" fill="#222" stroke="#222" stroke-width="0.3">FL2-H</text>
<text transform="translate(440.75 99.5) rotate(-90)" font-size="5.8" font-weight="bold" text-anchor="middle" fill="#222" stroke="#222" stroke-width="0.3">0</text>
<text transform="translate(440.75 89.03) rotate(-90)" font-size="5.8" font-weight="bold" text-anchor="middle" fill="#222" stroke="#222" stroke-width="0.3">10</text>
<text transform="translate(440.75 78.55) rotate(-90)" font-size="5.8" font-weight="bold" text-anchor="middle" fill="#222" stroke="#222" stroke-width="0.3">20</text>
<text transform="translate(440.75 68.08) rotate(-90)" font-size="5.8" font-weight="bold" text-anchor="middle" fill="#222" stroke="#222" stroke-width="0.3">30</text>
<text transform="translate(440.75 57.6) rotate(-90)" font-size="5.8" font-weight="bold" text-anchor="middle" fill="#222" stroke="#222" stroke-width="0.3">40</text>
<text transform="translate(440.75 47.12) rotate(-90)" font-size="5.8" font-weight="bold" text-anchor="middle" fill="#222" stroke="#222" stroke-width="0.3">50</text>
<text transform="translate(440.75 36.65) rotate(-90)" font-size="5.8" font-weight="bold" text-anchor="middle" fill="#222" stroke="#222" stroke-width="0.3">60</text>
<text transform="translate(440.75 26.17) rotate(-90)" font-size="5.8" font-weight="bold" text-anchor="middle" fill="#222" stroke="#222" stroke-width="0.3">70</text>
<text transform="translate(440.75 15.7) rotate(-90)" font-size="5.8" font-weight="bold" text-anchor="middle" fill="#222" stroke="#222" stroke-width="0.3">80</text>
<path d="M443 99.5H446.2M444.4 96.88H446.2M444.4 94.26H446.2M444.4 91.64H446.2M443 89.03H446.2M444.4 86.41H446.2M444.4 83.79H446.2M444.4 81.17H446.2M443 78.55H446.2M444.4 75.93H446.2M444.4 73.31H446.2M444.4 70.69H446.2M443 68.08H446.2M444.4 65.46H446.2M444.4 62.84H446.2M444.4 60.22H446.2M443 57.6H446.2M444.4 54.98H446.2M444.4 52.36H446.2M444.4 49.74H446.2M443 47.12H446.2M444.4 44.51H446.2M444.4 41.89H446.2M444.4 39.27H446.2M443 36.65H446.2M444.4 34.03H446.2M444.4 31.41H446.2M444.4 28.79H446.2M443 26.17H446.2M444.4 23.56H446.2M444.4 20.94H446.2M444.4 18.32H446.2M443 15.7H446.2" stroke="#333" stroke-width="0.6" fill="none"/>
<text transform="translate(433.5 58.5) rotate(-90)" font-size="5.67" font-weight="bold" text-anchor="middle" textLength="17.97" lengthAdjust="spacingAndGlyphs" fill="#222" stroke="#222" stroke-width="0.3">Counts</text>
<path d="M447.2 89.44 447.64 93.59 448.36 91.29 449.08 86.88 449.8 86.42 450.52 84.1 451.24 80.15 451.96 82.18 452.68 73.83 453.4 69.96 454.12 70.99 454.84 56.37 455.56 66.06 456.28 63.2 457 59.57 457.72 54.86 458.44 50.52 459.16 65.49 459.88 62.29 460.6 48.25 461.32 56.09 462.04 56.42 462.76 55.02 463.48 46.03 464.2 54.06 464.92 60.01 465.64 64.34 466.36 65 467.08 63.1 467.8 68.12 468.52 70.85 469.24 62.68 469.96 65.37 470.68 72.62 471.4 66.41 472.12 72.53 472.84 77.75 473.56 76.27 474.28 78.92 475 83.11 475.72 79.5 476.44 87.27 477.16 83.79 477.88 87.25 478.6 85.39 479.32 87.15 480.04 86.49 480.76 92.07 481.48 89.51 482.2 87.69 482.92 90.06 483.64 86.28 484.36 87.95 485.08 87.71 485.8 89.79 486.52 92.64 487.24 88.61 487.96 88.84 488.68 87.49 489.4 89.44 490.12 90.84 490.84 89.74 491.56 91.35 492.28 90.3 493 88.87 493.72 88.71 494.44 87.99 495.16 90.37 495.88 88.35 496.6 89.91 497.32 92.06 498.04 91.76 498.76 90.85 499.48 92.03 500.2 92.39 500.92 91.42 501.64 93.9 502.36 93.1 503.08 94.09 503.8 95.12 504.52 94.13 505.24 93.33 505.96 95.02 506.68 95.63 507.4 94.5 508.12 95.39 508.84 95.78 509.56 95.76 510.28 96.63 511 97.05 511.72 96.85 512.44 97.4 513.16 98.26 513.88 97.6 514.6 98.06 515.32 97.79 516.04 98.43 516.76 99.01 517.48 98.69 518.2 98.84 518.92 98.62 519.64 98.81 520.36 98.88 521.08 99.16 521.8 99.16 522.52 99.1 523.24 99.34 523.96 99.28 524.68 99.28 525.4 99.39 526.12 99.39 526.84 99.49 527.56 99.39 528.28 99.48 529 99.41 529.72 99.46 530.44 99.5 531.16 99.5 531.88 99.5 532.6 99.5 533.32 99.46 534.04 99.5 534.76 99.49 535.48 99.5 536.2 99.49 536.92 99.5 537.64 99.5 538.36 99.5 539.08 99.46" stroke="#111111" stroke-width="0.95" fill="none" stroke-linejoin="round"/>
<path d="M447.2 89.37 447.64 86.31 448.36 85.81 449.08 86.84 449.8 81.34 450.52 81.2 451.24 79.61 451.96 78.57 452.68 73.29 453.4 73.48 454.12 70.99 454.84 74.16 455.56 73.38 456.28 74.05 457 70.2 457.72 78.02 458.44 60.99 459.16 65.56 459.88 64.9 460.6 61.04 461.32 65.39 462.04 62.39 462.76 59.87 463.48 69.35 464.2 55.64 464.92 62.35 465.64 60.66 466.36 67.82 467.08 66.62 467.8 58.03 468.52 67.6 469.24 67.93 469.96 65.5 470.68 63.04 471.4 77.92 472.12 65.25 472.84 70.53 473.56 69.59 474.28 76.78 475 73.67 475.72 70.84 476.44 76.84 477.16 79.2 477.88 79.47 478.6 80.45 479.32 77.76 480.04 79.93 480.76 82.17 481.48 79.62 482.2 84.44 482.92 85.54 483.64 77.08 484.36 84.25 485.08 79.49 485.8 83.41 486.52 83.83 487.24 82.33 487.96 85.36 488.68 85.39 489.4 84.09 490.12 84.51 490.84 82.2 491.56 79.65 492.28 86.31 493 85.73 493.72 82.39 494.44 83 495.16 81.86 495.88 85.85 496.6 83.26 497.32 84.77 498.04 88.12 498.76 84.22 499.48 88.4 500.2 84.6 500.92 86.78 501.64 86.61 502.36 82.71 503.08 84.24 503.8 86.58 504.52 87.03 505.24 89.36 505.96 86.52 506.68 87.96 507.4 90.63 508.12 92.17 508.84 90.2 509.56 90.87 510.28 89.94 511 92.75 511.72 92.95 512.44 91.84 513.16 92.63 513.88 92.14 514.6 92.41 515.32 94.72 516.04 96.33 516.76 94.55 517.48 95.51 518.2 95.08 518.92 97.46 519.64 95.93 520.36 96.08 521.08 96.73 521.8 96.38 522.52 96.84 523.24 97.01 523.96 96.76 524.68 96.99 525.4 97.25 526.12 97.73 526.84 97.97 527.56 97.99 528.28 98.21 529 98.6 529.72 98.44 530.44 98.44 531.16 98.8 531.88 99 532.6 98.79 533.32 99.06 534.04 99.21 534.76 99.1 535.48 99.28 536.2 99.14 536.92 99.25 537.64 99.24 538.36 99.2 539.08 99.23" stroke="#19e62d" stroke-width="0.95" fill="none" stroke-linejoin="round"/>
<path d="M447.2 44.19 447.64 86.44 448.36 85.78 449.08 86.6 449.8 79.68 450.52 86.32 451.24 81.33 451.96 77.65 452.68 76.86 453.4 75.48 454.12 79 454.84 68.64 455.56 75.56 456.28 72.07 457 70.59 457.72 69.39 458.44 70.21 459.16 61 459.88 65.76 460.6 61 461.32 70.82 462.04 60.93 462.76 63.77 463.48 60.55 464.2 60.96 464.92 59.65 465.64 61.87 466.36 61.13 467.08 61.07 467.8 61.03 468.52 62.33 469.24 64.87 469.96 62.22 470.68 68.47 471.4 57.75 472.12 63.75 472.84 62.48 473.56 69.92 474.28 75.29 475 77.14 475.72 75.79 476.44 76.36 477.16 76.71 477.88 77.71 478.6 75.88 479.32 85.1 480.04 75.07 480.76 81.2 481.48 80.66 482.2 85.99 482.92 81.65 483.64 86.06 484.36 82.02 485.08 82.86 485.8 83.4 486.52 84.4 487.24 84.81 487.96 85.06 488.68 82.61 489.4 84.45 490.12 84.21 490.84 79.83 491.56 84.69 492.28 86.84 493 89.64 493.72 90.11 494.44 85.04 495.16 83.67 495.88 87.64 496.6 88.03 497.32 86.33 498.04 85.92 498.76 84.68 499.48 86.93 500.2 88.18 500.92 86.13 501.64 89.33 502.36 90.5 503.08 90.25 503.8 89.33 504.52 89.87 505.24 89.62 505.96 89.98 506.68 87.14 507.4 90.34 508.12 94.11 508.84 93.52 509.56 91.98 510.28 93.54 511 90.67 511.72 93.88 512.44 94.18 513.16 94.08 513.88 94.77 514.6 94.47 515.32 95.46 516.04 95.36 516.76 96.31 517.48 97.86 518.2 96.21 518.92 95.82 519.64 97.46 520.36 97.46 521.08 97.06 521.8 97.82 522.52 97.75 523.24 98.05 523.96 97.94 524.68 98.31 525.4 97.87 526.12 98.51 526.84 98.69 527.56 99.01 528.28 98.8 529 99.05 529.72 98.88 530.44 98.97 531.16 98.79 531.88 99.23 532.6 99.18 533.32 99.15 534.04 99.42 534.76 99.26 535.48 99.22 536.2 99.35 536.92 99.38 537.64 99.34 538.36 99.4 539.08 99.41" stroke="#f0329a" stroke-width="0.95" fill="none" stroke-linejoin="round"/>
<path d="M447.2 90.52 447.64 91.1 448.36 89.39 449.08 87.09 449.8 88.2 450.52 88.37 451.24 88.65 451.96 83.28 452.68 84.28 453.4 84.46 454.12 84.4 454.84 87.21 455.56 80.02 456.28 81.77 457 78.5 457.72 73.21 458.44 77.51 459.16 75.92 459.88 71.57 460.6 74.25 461.32 72.23 462.04 75.69 462.76 74.04 463.48 75.82 464.2 65.63 464.92 63.75 465.64 69.42 466.36 67.45 467.08 67.81 467.8 55.05 468.52 61.13 469.24 65.19 469.96 61.49 470.68 58.54 471.4 67.97 472.12 61.1 472.84 61.17 473.56 63.69 474.28 60.81 475 59.46 475.72 64.68 476.44 66.75 477.16 62.33 477.88 65.99 478.6 65.79 479.32 60.89 480.04 67.58 480.76 70.01 481.48 75.24 482.2 70.28 482.92 71.17 483.64 71.24 484.36 72.2 485.08 72.51 485.8 74.65 486.52 75.59 487.24 74.93 487.96 79.04 488.68 80.26 489.4 80.69 490.12 78.09 490.84 83.36 491.56 80.21 492.28 79.67 493 78.57 493.72 82.16 494.44 79.5 495.16 79.68 495.88 81.24 496.6 79.83 497.32 80.56 498.04 82.99 498.76 81.22 499.48 82.74 500.2 76.13 500.92 81.49 501.64 82.67 502.36 84.85 503.08 81.78 503.8 81.25 504.52 82.39 505.24 85.89 505.96 85.54 506.68 86.08 507.4 83.91 508.12 86.5 508.84 85.55 509.56 82.6 510.28 89.89 511 87.58 511.72 87.78 512.44 90.75 513.16 87.35 513.88 89.95 514.6 89.64 515.32 89.98 516.04 89.56 516.76 92.66 517.48 93.14 518.2 94.29 518.92 94.7 519.64 92.31 520.36 94.81 521.08 96.24 521.8 94.77 522.52 94.46 523.24 96.64 523.96 96.4 524.68 97.42 525.4 97.96 526.12 97.33 526.84 97.97 527.56 98.15 528.28 97.91 529 97.99 529.72 98.33 530.44 98.11 531.16 98.7 531.88 98.75 532.6 98.63 533.32 98.53 534.04 98.68 534.76 98.92 535.48 99.09 536.2 99.29 536.92 99.09 537.64 99.26 538.36 99.14 539.08 99.32" stroke="#2aa5ea" stroke-width="0.95" fill="none" stroke-linejoin="round"/>
<path d="M446.2 15.7V99.5" stroke="#1f83c4" stroke-width="1.3"/>
<rect x="475.2" y="24" width="2.2" height="2.2" rx="0.6" fill="#111111"/>
<text x="483.8" y="27.7" font-size="7.6" font-weight="bold" stroke="#000" stroke-width="0.2">Con</text>
<rect x="475.2" y="32.3" width="2.2" height="2.2" rx="0.6" fill="#19e62d"/>
<text x="483.8" y="36" font-size="7.6" font-weight="bold" stroke="#000" stroke-width="0.2">IR</text>
<rect x="475.2" y="40.3" width="2.2" height="2.2" rx="0.6" fill="#f0329a"/>
<text x="483.8" y="44" font-size="7.6" font-weight="bold" stroke="#000" stroke-width="0.2">JNC-1043</text>
<rect x="475.2" y="49.1" width="2.2" height="2.2" rx="0.6" fill="#2aa5ea"/>
<text x="483.8" y="52.8" font-size="7.6" font-weight="bold" stroke="#000" stroke-width="0.2">IR+JNC-1043</text>
<rect x="445.1" y="146.5" width="94.3" height="85.5" fill="#fff" stroke="#4a4a4a" stroke-width="0.85"/>
<path d="M445.1 232H539.4" stroke="#888" stroke-width="0.9"/>
<path d="M445.1 232v2.6M452.94 232v1.5M457.53 232v1.5M460.78 232v1.5M463.31 232v1.5M465.37 232v1.5M467.11 232v1.5M468.63 232v1.5M469.96 232v1.5M471.15 232v2.6M478.99 232v1.5M483.58 232v1.5M486.83 232v1.5M489.36 232v1.5M491.42 232v1.5M493.16 232v1.5M494.68 232v1.5M496.01 232v1.5M497.2 232v2.6M505.04 232v1.5M509.63 232v1.5M512.88 232v1.5M515.41 232v1.5M517.47 232v1.5M519.21 232v1.5M520.73 232v1.5M522.06 232v1.5M523.25 232v2.6M531.09 232v1.5M535.68 232v1.5M538.93 232v1.5" stroke="#888" stroke-width="0.7" fill="none"/>
<text x="446" y="241.3" font-size="6.3" font-weight="bold" text-anchor="end" textLength="5.47" lengthAdjust="spacingAndGlyphs" fill="#222" stroke="#222" stroke-width="0.3">10</text>
<text x="446.3" y="238.65" font-size="5.8" font-weight="bold" text-anchor="start" textLength="2.84" lengthAdjust="spacingAndGlyphs" fill="#222" stroke="#222" stroke-width="0.3">0</text>
<text x="472.05" y="241.3" font-size="6.3" font-weight="bold" text-anchor="end" textLength="5.47" lengthAdjust="spacingAndGlyphs" fill="#222" stroke="#222" stroke-width="0.3">10</text>
<text x="472.35" y="238.65" font-size="5.8" font-weight="bold" text-anchor="start" textLength="2.84" lengthAdjust="spacingAndGlyphs" fill="#222" stroke="#222" stroke-width="0.3">1</text>
<text x="498.1" y="241.3" font-size="6.3" font-weight="bold" text-anchor="end" textLength="5.47" lengthAdjust="spacingAndGlyphs" fill="#222" stroke="#222" stroke-width="0.3">10</text>
<text x="498.4" y="238.65" font-size="5.8" font-weight="bold" text-anchor="start" textLength="2.84" lengthAdjust="spacingAndGlyphs" fill="#222" stroke="#222" stroke-width="0.3">2</text>
<text x="524.15" y="241.3" font-size="6.3" font-weight="bold" text-anchor="end" textLength="5.47" lengthAdjust="spacingAndGlyphs" fill="#222" stroke="#222" stroke-width="0.3">10</text>
<text x="524.45" y="238.65" font-size="5.8" font-weight="bold" text-anchor="start" textLength="2.84" lengthAdjust="spacingAndGlyphs" fill="#222" stroke="#222" stroke-width="0.3">3</text>
<text x="491.5" y="247.2" font-size="5.9" font-weight="bold" text-anchor="middle" textLength="15.71" lengthAdjust="spacingAndGlyphs" fill="#222" stroke="#222" stroke-width="0.3">FL2-H</text>
<text transform="translate(438.85 232) rotate(-90)" font-size="5.8" font-weight="bold" text-anchor="middle" fill="#222" stroke="#222" stroke-width="0.3">0</text>
<text transform="translate(438.85 214.9) rotate(-90)" font-size="5.8" font-weight="bold" text-anchor="middle" fill="#222" stroke="#222" stroke-width="0.3">20</text>
<text transform="translate(438.85 197.8) rotate(-90)" font-size="5.8" font-weight="bold" text-anchor="middle" fill="#222" stroke="#222" stroke-width="0.3">40</text>
<text transform="translate(438.85 180.7) rotate(-90)" font-size="5.8" font-weight="bold" text-anchor="middle" fill="#222" stroke="#222" stroke-width="0.3">60</text>
<text transform="translate(438.85 163.6) rotate(-90)" font-size="5.8" font-weight="bold" text-anchor="middle" fill="#222" stroke="#222" stroke-width="0.3">80</text>
<text transform="translate(438.85 146.5) rotate(-90)" font-size="5.8" font-weight="bold" text-anchor="middle" fill="#222" stroke="#222" stroke-width="0.3">100</text>
<path d="M441.9 232H445.1M443.3 227.72H445.1M443.3 223.45H445.1M443.3 219.18H445.1M441.9 214.9H445.1M443.3 210.62H445.1M443.3 206.35H445.1M443.3 202.08H445.1M441.9 197.8H445.1M443.3 193.53H445.1M443.3 189.25H445.1M443.3 184.98H445.1M441.9 180.7H445.1M443.3 176.42H445.1M443.3 172.15H445.1M443.3 167.88H445.1M441.9 163.6H445.1M443.3 159.32H445.1M443.3 155.05H445.1M443.3 150.78H445.1M441.9 146.5H445.1" stroke="#333" stroke-width="0.6" fill="none"/>
<text transform="translate(432.6 189.1) rotate(-90)" font-size="5.67" font-weight="bold" text-anchor="middle" textLength="17.97" lengthAdjust="spacingAndGlyphs" fill="#222" stroke="#222" stroke-width="0.3">Counts</text>
<path d="M446.1 219.18 446.54 221.75 447.26 215.73 447.98 213.07 448.7 212.17 449.42 206.95 450.14 208.98 450.86 204.08 451.58 201.65 452.3 199.02 453.02 201.82 453.74 190.39 454.46 194.49 455.18 190.8 455.9 189.3 456.62 195.43 457.34 194.7 458.06 189.19 458.78 192.15 459.5 193.29 460.22 193.31 460.94 190.63 461.66 193.84 462.38 201.14 463.1 195.76 463.82 195.11 464.54 198.52 465.26 194.21 465.98 204.44 466.7 203.66 467.42 198.48 468.14 204.31 468.86 204.51 469.58 206.42 470.3 207.28 471.02 209.37 471.74 214.18 472.46 209 473.18 215.02 473.9 215.53 474.62 215.42 475.34 216.37 476.06 218.6 476.78 221.84 477.5 222.4 478.22 220.62 478.94 221.97 479.66 221.88 480.38 222.79 481.1 225.06 481.82 224.98 482.54 223.35 483.26 226.12 483.98 227.08 484.7 224.8 485.42 226.82 486.14 225.89 486.86 228.11 487.58 227.63 488.3 226.99 489.02 227.16 489.74 226.9 490.46 226.82 491.18 227.09 491.9 228.48 492.62 226.63 493.34 226.83 494.06 227.5 494.78 227.46 495.5 229.04 496.22 227.47 496.94 227.12 497.66 228.13 498.38 227.68 499.1 228.25 499.82 227.09 500.54 226.71 501.26 228.26 501.98 228.48 502.7 228.77 503.42 227.52 504.14 228.11 504.86 228.43 505.58 228.53 506.3 229.12 507.02 229.34 507.74 228.75 508.46 229.51 509.18 229.18 509.9 229.35 510.62 228.71 511.34 229.54 512.06 230.65 512.78 229.62 513.5 229.89 514.22 229.88 514.94 230.39 515.66 230.21 516.38 230.62 517.1 230.81 517.82 230.34 518.54 230.95 519.26 230.64 519.98 230.43 520.7 230.85 521.42 231.13 522.14 231.19 522.86 231.41 523.58 231.2 524.3 231.27 525.02 231.37 525.74 231.26 526.46 231.54 527.18 231.41 527.9 231.53 528.62 231.61 529.34 231.68 530.06 231.76 530.78 231.76 531.5 231.75 532.22 231.77 532.94 231.64 533.66 231.8 534.38 231.82 535.1 231.83 535.82 231.87 536.54 231.89 537.26 231.9 537.98 231.96 538.7 231.94" stroke="#111111" stroke-width="0.95" fill="none" stroke-linejoin="round"/>
<path d="M446.1 225.16 446.54 225.51 447.26 224.12 447.98 223.02 448.7 221.61 449.42 224.72 450.14 223.45 450.86 223.11 451.58 221.62 452.3 220.58 453.02 221.43 453.74 217.98 454.46 219.82 455.18 215.06 455.9 216.56 456.62 212.67 457.34 210.75 458.06 210.4 458.78 209.95 459.5 208.77 460.22 208.1 460.94 198.18 461.66 199.19 462.38 192.98 463.1 196.25 463.82 194.7 464.54 196.67 465.26 194.1 465.98 198.21 466.7 187.01 467.42 186.27 468.14 183.72 468.86 183.64 469.58 194.17 470.3 200.7 471.02 187.97 471.74 191.18 472.46 197.36 473.18 198.63 473.9 194.12 474.62 192.84 475.34 199.72 476.06 205.47 476.78 203.18 477.5 204.87 478.22 213 478.94 210.39 479.66 216.18 480.38 215.94 481.1 216.83 481.82 219.17 482.54 222.85 483.26 221.36 483.98 224.68 484.7 223.06 485.42 226.6 486.14 225.72 486.86 226.19 487.58 226.76 488.3 226.28 489.02 226.49 489.74 225.43 490.46 226.62 491.18 226.19 491.9 227.92 492.62 226.26 493.34 226.39 494.06 225.98 494.78 225.91 495.5 227.65 496.22 227.95 496.94 227.5 497.66 227.36 498.38 225.75 499.1 228.4 499.82 226.81 500.54 226.06 501.26 227 501.98 228.03 502.7 227.64 503.42 226.6 504.14 226.53 504.86 227.29 505.58 227.01 506.3 226.36 507.02 227.72 507.74 226.22 508.46 228.39 509.18 226.59 509.9 228.92 510.62 227.3 511.34 228.28 512.06 229.34 512.78 228.52 513.5 228.45 514.22 228.6 514.94 229.01 515.66 229.3 516.38 229.51 517.1 229.48 517.82 229.16 518.54 229.63 519.26 229.7 519.98 230.03 520.7 229.76 521.42 229.59 522.14 229.82 522.86 230.93 523.58 230.93 524.3 231.07 525.02 230.99 525.74 230.59 526.46 231.16 527.18 231.15 527.9 231.29 528.62 231.62 529.34 231.56 530.06 231.54 530.78 231.61 531.5 231.59 532.22 231.65 532.94 231.67 533.66 231.82 534.38 231.64 535.1 231.72 535.82 231.83 536.54 231.84 537.26 231.88 537.98 231.94 538.7 231.84" stroke="#19e62d" stroke-width="0.95" fill="none" stroke-linejoin="round"/>
<path d="M446.1 182.41 446.54 217.64 447.26 215.91 447.98 213.9 448.7 210.12 449.42 209.94 450.14 211.43 450.86 204.55 451.58 204.18 452.3 202.06 453.02 199.08 453.74 196.86 454.46 191.89 455.18 192.13 455.9 192.85 456.62 195.06 457.34 195.41 458.06 190.01 458.78 185.59 459.5 190.62 460.22 191.4 460.94 189.27 461.66 197.46 462.38 193.72 463.1 191.51 463.82 191.09 464.54 196.22 465.26 195.21 465.98 196.96 466.7 196.58 467.42 204.09 468.14 200.29 468.86 207.95 469.58 212.38 470.3 208.19 471.02 210.41 471.74 207.46 472.46 209.52 473.18 215.1 473.9 212.11 474.62 217.08 475.34 216.56 476.06 218.08 476.78 218.51 477.5 218.5 478.22 219.78 478.94 221.09 479.66 221.55 480.38 222.52 481.1 224.4 481.82 225.04 482.54 225.27 483.26 224.8 483.98 225.88 484.7 224.03 485.42 226.95 486.14 227.39 486.86 226.16 487.58 225.86 488.3 226.69 489.02 226.57 489.74 226.26 490.46 227.39 491.18 228.36 491.9 227.79 492.62 226.82 493.34 228.46 494.06 227.49 494.78 227.36 495.5 227.76 496.22 227.1 496.94 227.22 497.66 226.1 498.38 227.25 499.1 228.08 499.82 228.09 500.54 228.31 501.26 227.24 501.98 228.25 502.7 228.01 503.42 227.58 504.14 228.54 504.86 228.37 505.58 229.35 506.3 228.99 507.02 228.8 507.74 228.37 508.46 228.08 509.18 228.82 509.9 228.8 510.62 228.96 511.34 228.66 512.06 228.88 512.78 229.28 513.5 229.94 514.22 229.28 514.94 229.61 515.66 229.42 516.38 230 517.1 229.44 517.82 230.32 518.54 229.83 519.26 230.39 519.98 230.66 520.7 230.91 521.42 230.75 522.14 230.47 522.86 230.71 523.58 230.83 524.3 231.51 525.02 230.99 525.74 231.1 526.46 231.35 527.18 231.41 527.9 231.38 528.62 231.21 529.34 231.61 530.06 231.58 530.78 231.44 531.5 231.66 532.22 231.68 532.94 231.68 533.66 231.81 534.38 231.73 535.1 231.85 535.82 231.75 536.54 231.82 537.26 231.73 537.98 231.85 538.7 231.82" stroke="#f0329a" stroke-width="0.95" fill="none" stroke-linejoin="round"/>
<path d="M446.1 226.62 446.54 224.51 447.26 225.4 447.98 224.72 448.7 224.15 449.42 225.88 450.14 226.47 450.86 225.56 451.58 223.11 452.3 221.53 453.02 222.33 453.74 224.12 454.46 218.81 455.18 223.36 455.9 220.54 456.62 219.84 457.34 217.13 458.06 214.05 458.78 218.98 459.5 214.9 460.22 211.84 460.94 214.63 461.66 210.01 462.38 207.54 463.1 211.07 463.82 209.54 464.54 203.39 465.26 202.41 465.98 198.97 466.7 188.87 467.42 192.83 468.14 193.35 468.86 197.42 469.58 188.49 470.3 195.8 471.02 183.39 471.74 184.63 472.46 200.36 473.18 196.02 473.9 191.09 474.62 192.58 475.34 197.67 476.06 198.62 476.78 190.99 477.5 198.68 478.22 205 478.94 202.04 479.66 199.82 480.38 200.2 481.1 208.4 481.82 212.02 482.54 215.63 483.26 216.99 483.98 216.67 484.7 217.27 485.42 219.17 486.14 223.06 486.86 222.66 487.58 223.88 488.3 225.07 489.02 228.73 489.74 226.61 490.46 227.07 491.18 225.66 491.9 227.18 492.62 226.39 493.34 226.39 494.06 225.13 494.78 225.33 495.5 224.68 496.22 223.76 496.94 223.98 497.66 223.79 498.38 224.76 499.1 223.95 499.82 220.79 500.54 223.44 501.26 222.49 501.98 223.13 502.7 223.28 503.42 227.26 504.14 220.01 504.86 224.41 505.58 223.88 506.3 220.61 507.02 226.34 507.74 222.9 508.46 223.97 509.18 226.03 509.9 222.81 510.62 225.03 511.34 224.47 512.06 225.24 512.78 224.32 513.5 222.9 514.22 227.26 514.94 225.43 515.66 227.39 516.38 227.46 517.1 229.14 517.82 228.82 518.54 228.62 519.26 228.11 519.98 228.85 520.7 229 521.42 229.24 522.14 230.54 522.86 229.54 523.58 230.5 524.3 230.36 525.02 230.83 525.74 230.88 526.46 230.95 527.18 231.7 527.9 230.99 528.62 231.42 529.34 231.39 530.06 231.59 530.78 231.67 531.5 231.85 532.22 231.81 532.94 231.96 533.66 231.87 534.38 231.81 535.1 231.98 535.82 231.95 536.54 231.95 537.26 231.91 537.98 231.92 538.7 231.97" stroke="#2aa5ea" stroke-width="0.95" fill="none" stroke-linejoin="round"/>
<path d="M445.1 146.5V232" stroke="#1f83c4" stroke-width="1.3"/>
<rect x="475.2" y="154" width="2.2" height="2.2" rx="0.6" fill="#111111"/>
<text x="484.3" y="157.7" font-size="7.5" font-weight="bold" stroke="#000" stroke-width="0.2">Con</text>
<rect x="475.2" y="162.2" width="2.2" height="2.2" rx="0.6" fill="#19e62d"/>
<text x="484.3" y="165.9" font-size="7.5" font-weight="bold" stroke="#000" stroke-width="0.2">IR</text>
<rect x="475.2" y="170.5" width="2.2" height="2.2" rx="0.6" fill="#f0329a"/>
<text x="484.3" y="174.2" font-size="7.5" font-weight="bold" stroke="#000" stroke-width="0.2">JNC-1043</text>
<rect x="475.2" y="179.1" width="2.2" height="2.2" rx="0.6" fill="#2aa5ea"/>
<text x="484.3" y="182.8" font-size="7.5" font-weight="bold" stroke="#000" stroke-width="0.2">IR+JNC-1043</text>
<rect x="173.7" y="294.8" width="92.6" height="80.1" fill="#fff" stroke="#4a4a4a" stroke-width="0.85"/>
<path d="M173.7 374.9H266.3" stroke="#333" stroke-width="0.9"/>
<path d="M173.7 374.9v2.6M184.42 374.9v1.5M190.69 374.9v1.5M195.13 374.9v1.5M198.58 374.9v1.5M201.4 374.9v1.5M203.79 374.9v1.5M205.85 374.9v1.5M207.67 374.9v1.5M209.3 374.9v2.6M220.02 374.9v1.5M226.29 374.9v1.5M230.73 374.9v1.5M234.18 374.9v1.5M237 374.9v1.5M239.39 374.9v1.5M241.45 374.9v1.5M243.27 374.9v1.5M244.9 374.9v2.6M255.62 374.9v1.5M261.89 374.9v1.5M266.33 374.9v1.5" stroke="#333" stroke-width="0.7" fill="none"/>
<text x="174.6" y="383.6" font-size="6.3" font-weight="bold" text-anchor="end" textLength="5.47" lengthAdjust="spacingAndGlyphs" fill="#222" stroke="#222" stroke-width="0.3">10</text>
<text x="174.9" y="380.95" font-size="5.8" font-weight="bold" text-anchor="start" textLength="2.84" lengthAdjust="spacingAndGlyphs" fill="#222" stroke="#222" stroke-width="0.3">0</text>
<text x="210.2" y="383.6" font-size="6.3" font-weight="bold" text-anchor="end" textLength="5.47" lengthAdjust="spacingAndGlyphs" fill="#222" stroke="#222" stroke-width="0.3">10</text>
<text x="210.5" y="380.95" font-size="5.8" font-weight="bold" text-anchor="start" textLength="2.84" lengthAdjust="spacingAndGlyphs" fill="#222" stroke="#222" stroke-width="0.3">1</text>
<text x="245.8" y="383.6" font-size="6.3" font-weight="bold" text-anchor="end" textLength="5.47" lengthAdjust="spacingAndGlyphs" fill="#222" stroke="#222" stroke-width="0.3">10</text>
<text x="246.1" y="380.95" font-size="5.8" font-weight="bold" text-anchor="start" textLength="2.84" lengthAdjust="spacingAndGlyphs" fill="#222" stroke="#222" stroke-width="0.3">2</text>
<text x="218.6" y="389.8" font-size="5.9" font-weight="bold" text-anchor="middle" textLength="15.71" lengthAdjust="spacingAndGlyphs" fill="#222" stroke="#222" stroke-width="0.3">FL1-H</text>
<text transform="translate(167.75 374.9) rotate(-90)" font-size="5.8" font-weight="bold" text-anchor="middle" fill="#222" stroke="#222" stroke-width="0.3">0</text>
<text transform="translate(167.75 361.55) rotate(-90)" font-size="5.8" font-weight="bold" text-anchor="middle" fill="#222" stroke="#222" stroke-width="0.3">20</text>
<text transform="translate(167.75 348.2) rotate(-90)" font-size="5.8" font-weight="bold" text-anchor="middle" fill="#222" stroke="#222" stroke-width="0.3">40</text>
<text transform="translate(167.75 334.85) rotate(-90)" font-size="5.8" font-weight="bold" text-anchor="middle" fill="#222" stroke="#222" stroke-width="0.3">60</text>
<text transform="translate(167.75 321.5) rotate(-90)" font-size="5.8" font-weight="bold" text-anchor="middle" fill="#222" stroke="#222" stroke-width="0.3">80</text>
<text transform="translate(167.75 308.15) rotate(-90)" font-size="5.8" font-weight="bold" text-anchor="middle" fill="#222" stroke="#222" stroke-width="0.3">100</text>
<text transform="translate(167.75 294.8) rotate(-90)" font-size="5.8" font-weight="bold" text-anchor="middle" fill="#222" stroke="#222" stroke-width="0.3">120</text>
<path d="M170.5 374.9H173.7M171.9 371.56H173.7M171.9 368.22H173.7M171.9 364.89H173.7M170.5 361.55H173.7M171.9 358.21H173.7M171.9 354.87H173.7M171.9 351.54H173.7M170.5 348.2H173.7M171.9 344.86H173.7M171.9 341.52H173.7M171.9 338.19H173.7M170.5 334.85H173.7M171.9 331.51H173.7M171.9 328.18H173.7M171.9 324.84H173.7M170.5 321.5H173.7M171.9 318.16H173.7M171.9 314.82H173.7M171.9 311.49H173.7M170.5 308.15H173.7M171.9 304.81H173.7M171.9 301.47H173.7M171.9 298.14H173.7M170.5 294.8H173.7" stroke="#333" stroke-width="0.6" fill="none"/>
<text transform="translate(161.4 334) rotate(-90)" font-size="5.67" font-weight="bold" text-anchor="middle" textLength="17.97" lengthAdjust="spacingAndGlyphs" fill="#222" stroke="#222" stroke-width="0.3">Counts</text>
<path d="M174.7 367.81 175.14 367.3 175.86 365.54 176.58 365.39 177.3 364.68 178.02 367.05 178.74 361.24 179.46 359.67 180.18 359.16 180.9 359.34 181.62 358.71 182.34 354.53 183.06 352.29 183.78 352.66 184.5 353.96 185.22 350.05 185.94 344.96 186.66 352.43 187.38 346.27 188.1 352.04 188.82 350.61 189.54 340.32 190.26 350.51 190.98 347.86 191.7 350.89 192.42 343.41 193.14 348.91 193.86 346.18 194.58 342.75 195.3 344.46 196.02 335.85 196.74 344.21 197.46 345.39 198.18 341.85 198.9 345.84 199.62 346.13 200.34 348.7 201.06 346.15 201.78 344.36 202.5 349.98 203.22 349.4 203.94 351.94 204.66 352.67 205.38 348.11 206.1 356.14 206.82 357.07 207.54 357.89 208.26 359.27 208.98 355 209.7 354.43 210.42 360.72 211.14 356.08 211.86 357.09 212.58 360.66 213.3 360.79 214.02 362.96 214.74 360.94 215.46 362.97 216.18 363.93 216.9 365.88 217.62 366.05 218.34 363.58 219.06 366.91 219.78 366.21 220.5 369.36 221.22 367.94 221.94 367.18 222.66 368.71 223.38 369.24 224.1 370.29 224.82 369.83 225.54 369.71 226.26 370.67 226.98 370.87 227.7 371.42 228.42 371.51 229.14 370.63 229.86 372.6 230.58 372.33 231.3 373.15 232.02 372.21 232.74 373.16 233.46 372.84 234.18 373.45 234.9 372.76 235.62 372.99 236.34 373.41 237.06 373.59 237.78 373.7 238.5 373.87 239.22 373.69 239.94 374.12 240.66 374.24 241.38 374.29 242.1 374.21 242.82 374.59 243.54 374.22 244.26 374.37 244.98 374.43 245.7 374.5 246.42 374.54 247.14 374.56 247.86 374.59 248.58 374.69 249.3 374.85 250.02 374.67 250.74 374.75 251.46 374.77 252.18 374.72 252.9 374.76 253.62 374.82 254.34 374.8 255.06 374.84 255.78 374.89 256.5 374.85 257.22 374.87 257.94 374.87 258.66 374.9 259.38 374.9 260.1 374.9 260.82 374.86 261.54 374.86 262.26 374.88 262.98 374.88 263.7 374.9 264.42 374.89 265.14 374.89 265.86 374.87" stroke="#111111" stroke-width="0.95" fill="none" stroke-linejoin="round"/>
<path d="M174.7 366.71 175.14 364.67 175.86 361.89 176.58 360.94 177.3 358.58 178.02 359.82 178.74 356.3 179.46 355.59 180.18 357.19 180.9 351.05 181.62 354.31 182.34 355.7 183.06 352.02 183.78 351.93 184.5 349.85 185.22 344.14 185.94 346.29 186.66 338.93 187.38 345.07 188.1 341.1 188.82 342.6 189.54 348.94 190.26 341.38 190.98 339.95 191.7 337.66 192.42 346.27 193.14 337.67 193.86 337.15 194.58 345.36 195.3 341.05 196.02 338.1 196.74 349.92 197.46 342.14 198.18 352.12 198.9 344.49 199.62 340.66 200.34 347.75 201.06 345.49 201.78 353.69 202.5 351.21 203.22 351.56 203.94 348.52 204.66 352.68 205.38 350.67 206.1 354.02 206.82 356.56 207.54 355.36 208.26 356.01 208.98 358.19 209.7 356.74 210.42 361.05 211.14 359.77 211.86 359.85 212.58 362.9 213.3 362.62 214.02 363.4 214.74 366.34 215.46 362.37 216.18 365.81 216.9 365.19 217.62 370.54 218.34 365.75 219.06 368.31 219.78 369.32 220.5 368.85 221.22 368.17 221.94 371.13 222.66 368.94 223.38 371.3 224.1 369.56 224.82 370.47 225.54 370.11 226.26 370.67 226.98 372 227.7 371.9 228.42 371.51 229.14 372.23 229.86 372.21 230.58 372.91 231.3 372.19 232.02 371.5 232.74 372.36 233.46 372.78 234.18 373.52 234.9 373.29 235.62 372.92 236.34 373.47 237.06 373.37 237.78 373.8 238.5 373.89 239.22 373.84 239.94 374.09 240.66 374.19 241.38 374.1 242.1 374.27 242.82 374.64 243.54 374.26 244.26 374.21 244.98 374.44 245.7 374.58 246.42 374.68 247.14 374.69 247.86 374.66 248.58 374.61 249.3 374.71 250.02 374.75 250.74 374.82 251.46 374.78 252.18 374.83 252.9 374.75 253.62 374.82 254.34 374.84 255.06 374.79 255.78 374.8 256.5 374.87 257.22 374.9 257.94 374.84 258.66 374.9 259.38 374.87 260.1 374.9 260.82 374.9 261.54 374.9 262.26 374.9 262.98 374.9 263.7 374.87 264.42 374.9 265.14 374.86 265.86 374.88" stroke="#19e62d" stroke-width="0.95" fill="none" stroke-linejoin="round"/>
<path d="M174.7 370.89 175.14 371.79 175.86 371.62 176.58 371.29 177.3 371.55 178.02 369.43 178.74 369.98 179.46 368.56 180.18 368.72 180.9 366.56 181.62 367.03 182.34 365.71 183.06 364.17 183.78 364.76 184.5 363.88 185.22 362.79 185.94 361.4 186.66 359.43 187.38 358.9 188.1 358.11 188.82 355.34 189.54 355.59 190.26 357.5 190.98 350.09 191.7 357.22 192.42 345.73 193.14 354.74 193.86 353.28 194.58 350.24 195.3 343.87 196.02 348.91 196.74 342.35 197.46 340.75 198.18 345.67 198.9 343.12 199.62 340 200.34 340.15 201.06 343.4 201.78 347.58 202.5 342.83 203.22 343.88 203.94 340 204.66 340.41 205.38 343.43 206.1 345.04 206.82 343.82 207.54 341.48 208.26 341.1 208.98 341.95 209.7 341.08 210.42 341.96 211.14 347.94 211.86 343.54 212.58 352.25 213.3 348.08 214.02 351.12 214.74 357.1 215.46 349.25 216.18 349.17 216.9 352.92 217.62 360.35 218.34 363.29 219.06 357.54 219.78 359.55 220.5 362.43 221.22 363.44 221.94 366.04 222.66 363.78 223.38 367.88 224.1 367.47 224.82 366.45 225.54 365.08 226.26 366.52 226.98 366.79 227.7 367.05 228.42 368.07 229.14 369.79 229.86 369.43 230.58 369.92 231.3 370.82 232.02 370.71 232.74 371.02 233.46 372.12 234.18 372.4 234.9 371.69 235.62 371.54 236.34 371.62 237.06 371.69 237.78 372.3 238.5 372.58 239.22 373.04 239.94 373.44 240.66 374.22 241.38 373.36 242.1 373.19 242.82 373.52 243.54 373.1 244.26 373.35 244.98 373.65 245.7 373.98 246.42 373.7 247.14 373.85 247.86 374.43 248.58 374.22 249.3 374.19 250.02 374.53 250.74 374.26 251.46 374.55 252.18 374.52 252.9 374.65 253.62 374.64 254.34 374.67 255.06 374.63 255.78 374.76 256.5 374.74 257.22 374.76 257.94 374.82 258.66 374.81 259.38 374.88 260.1 374.89 260.82 374.87 261.54 374.9 262.26 374.9 262.98 374.88 263.7 374.9 264.42 374.9 265.14 374.9 265.86 374.88" stroke="#f0329a" stroke-width="0.95" fill="none" stroke-linejoin="round"/>
<path d="M174.7 369.98 175.14 370.32 175.86 369.7 176.58 369.29 177.3 366.55 178.02 364.98 178.74 366.2 179.46 365.05 180.18 366.36 180.9 362.92 181.62 362.67 182.34 358.57 183.06 355.09 183.78 359.62 184.5 360.22 185.22 357.76 185.94 358.08 186.66 357.36 187.38 352.86 188.1 353.72 188.82 351.6 189.54 355.89 190.26 351.41 190.98 352.11 191.7 345.79 192.42 347.9 193.14 348.31 193.86 347.81 194.58 345.69 195.3 347.96 196.02 349.05 196.74 348.01 197.46 344.6 198.18 344.39 198.9 350.63 199.62 350.95 200.34 343.29 201.06 345.05 201.78 342.68 202.5 343.7 203.22 346.89 203.94 346.25 204.66 346.64 205.38 350.46 206.1 353.32 206.82 346 207.54 348.84 208.26 352.61 208.98 349.99 209.7 352.03 210.42 350.63 211.14 350.49 211.86 350.71 212.58 354.87 213.3 354.04 214.02 359.49 214.74 360.69 215.46 361.58 216.18 359.7 216.9 359.86 217.62 362.08 218.34 362 219.06 361.9 219.78 363.96 220.5 366 221.22 365.59 221.94 365.46 222.66 365.14 223.38 365.73 224.1 367.27 224.82 366.79 225.54 368.32 226.26 368.03 226.98 368.54 227.7 367.94 228.42 370.61 229.14 370.91 229.86 370.47 230.58 369.72 231.3 371.53 232.02 371.62 232.74 371.19 233.46 370.87 234.18 372.43 234.9 372.02 235.62 371.94 236.34 372.37 237.06 372.98 237.78 372.73 238.5 373.38 239.22 373.82 239.94 373.75 240.66 373.59 241.38 373.9 242.1 374.1 242.82 374.41 243.54 374.43 244.26 374.02 244.98 374.41 245.7 374.44 246.42 374.48 247.14 374.41 247.86 374.74 248.58 374.61 249.3 374.61 250.02 374.74 250.74 374.72 251.46 374.68 252.18 374.82 252.9 374.82 253.62 374.78 254.34 374.86 255.06 374.82 255.78 374.87 256.5 374.88 257.22 374.85 257.94 374.82 258.66 374.85 259.38 374.87 260.1 374.89 260.82 374.89 261.54 374.9 262.26 374.9 262.98 374.9 263.7 374.88 264.42 374.9 265.14 374.87 265.86 374.85" stroke="#2aa5ea" stroke-width="0.95" fill="none" stroke-linejoin="round"/>
<path d="M173.7 294.8V374.9" stroke="#1f83c4" stroke-width="1.3"/>
<rect x="186.1" y="299.8" width="2.2" height="2.2" rx="0.6" fill="#111111"/>
<text x="194.7" y="303.5" font-size="7.15" font-weight="bold" stroke="#000" stroke-width="0.2">Con</text>
<rect x="186.1" y="307.5" width="2.2" height="2.2" rx="0.6" fill="#19e62d"/>
<text x="194.7" y="311.2" font-size="7.15" font-weight="bold" stroke="#000" stroke-width="0.2">NAC</text>
<rect x="186.1" y="315.6" width="2.2" height="2.2" rx="0.6" fill="#f0329a"/>
<text x="194.7" y="319.3" font-size="7.15" font-weight="bold" stroke="#000" stroke-width="0.2">IR+JNC-1043</text>
<rect x="186.1" y="323.6" width="2.2" height="2.2" rx="0.6" fill="#2aa5ea"/>
<text x="194.7" y="327.3" font-size="7.15" font-weight="bold" stroke="#000" stroke-width="0.2">IR+JNC-1043+NAC</text>
<rect x="176.8" y="429.75" width="91.55" height="78.55" fill="#fff" stroke="#4a4a4a" stroke-width="0.85"/>
<path d="M176.8 508.3H268.35" stroke="#333" stroke-width="0.9"/>
<path d="M176.8 508.3v2.6M183.69 508.3v1.5M187.72 508.3v1.5M190.58 508.3v1.5M192.79 508.3v1.5M194.6 508.3v1.5M196.14 508.3v1.5M197.46 508.3v1.5M198.63 508.3v1.5M199.68 508.3v2.6M206.57 508.3v1.5M210.6 508.3v1.5M213.46 508.3v1.5M215.67 508.3v1.5M217.48 508.3v1.5M219.02 508.3v1.5M220.34 508.3v1.5M221.51 508.3v1.5M222.56 508.3v2.6M229.45 508.3v1.5M233.48 508.3v1.5M236.34 508.3v1.5M238.55 508.3v1.5M240.36 508.3v1.5M241.9 508.3v1.5M243.22 508.3v1.5M244.39 508.3v1.5M245.44 508.3v2.6M252.33 508.3v1.5M256.36 508.3v1.5M259.22 508.3v1.5M261.43 508.3v1.5M263.24 508.3v1.5M264.78 508.3v1.5M266.1 508.3v1.5M267.27 508.3v1.5M268.32 508.3v2.6" stroke="#333" stroke-width="0.7" fill="none"/>
<text x="177.7" y="516.3" font-size="5.5" font-weight="bold" text-anchor="end" textLength="4.77" lengthAdjust="spacingAndGlyphs" fill="#222" stroke="#222" stroke-width="0.3">10</text>
<text x="178" y="513.99" font-size="5.06" font-weight="bold" text-anchor="start" textLength="2.48" lengthAdjust="spacingAndGlyphs" fill="#222" stroke="#222" stroke-width="0.3">0</text>
<text x="200.58" y="516.3" font-size="5.5" font-weight="bold" text-anchor="end" textLength="4.77" lengthAdjust="spacingAndGlyphs" fill="#222" stroke="#222" stroke-width="0.3">10</text>
<text x="200.88" y="513.99" font-size="5.06" font-weight="bold" text-anchor="start" textLength="2.48" lengthAdjust="spacingAndGlyphs" fill="#222" stroke="#222" stroke-width="0.3">1</text>
<text x="223.46" y="516.3" font-size="5.5" font-weight="bold" text-anchor="end" textLength="4.77" lengthAdjust="spacingAndGlyphs" fill="#222" stroke="#222" stroke-width="0.3">10</text>
<text x="223.76" y="513.99" font-size="5.06" font-weight="bold" text-anchor="start" textLength="2.48" lengthAdjust="spacingAndGlyphs" fill="#222" stroke="#222" stroke-width="0.3">2</text>
<text x="246.34" y="516.3" font-size="5.5" font-weight="bold" text-anchor="end" textLength="4.77" lengthAdjust="spacingAndGlyphs" fill="#222" stroke="#222" stroke-width="0.3">10</text>
<text x="246.64" y="513.99" font-size="5.06" font-weight="bold" text-anchor="start" textLength="2.48" lengthAdjust="spacingAndGlyphs" fill="#222" stroke="#222" stroke-width="0.3">3</text>
<text x="269.22" y="516.3" font-size="5.5" font-weight="bold" text-anchor="end" textLength="4.77" lengthAdjust="spacingAndGlyphs" fill="#222" stroke="#222" stroke-width="0.3">10</text>
<text x="269.52" y="513.99" font-size="5.06" font-weight="bold" text-anchor="start" textLength="2.48" lengthAdjust="spacingAndGlyphs" fill="#222" stroke="#222" stroke-width="0.3">4</text>
<text x="220.2" y="521.4" font-size="4.8" font-weight="bold" text-anchor="middle" textLength="12.78" lengthAdjust="spacingAndGlyphs" fill="#222" stroke="#222" stroke-width="0.3">FL1-H</text>
<text transform="translate(171.25 508.3) rotate(-90)" font-size="5.06" font-weight="bold" text-anchor="middle" fill="#222" stroke="#222" stroke-width="0.3">0</text>
<text transform="translate(171.25 495.21) rotate(-90)" font-size="5.06" font-weight="bold" text-anchor="middle" fill="#222" stroke="#222" stroke-width="0.3">20</text>
<text transform="translate(171.25 482.12) rotate(-90)" font-size="5.06" font-weight="bold" text-anchor="middle" fill="#222" stroke="#222" stroke-width="0.3">40</text>
<text transform="translate(171.25 469.02) rotate(-90)" font-size="5.06" font-weight="bold" text-anchor="middle" fill="#222" stroke="#222" stroke-width="0.3">60</text>
<text transform="translate(171.25 455.93) rotate(-90)" font-size="5.06" font-weight="bold" text-anchor="middle" fill="#222" stroke="#222" stroke-width="0.3">80</text>
<text transform="translate(171.25 442.84) rotate(-90)" font-size="5.06" font-weight="bold" text-anchor="middle" fill="#222" stroke="#222" stroke-width="0.3">100</text>
<text transform="translate(171.25 429.75) rotate(-90)" font-size="5.06" font-weight="bold" text-anchor="middle" fill="#222" stroke="#222" stroke-width="0.3">120</text>
<path d="M173.6 508.3H176.8M175 505.03H176.8M175 501.75H176.8M175 498.48H176.8M173.6 495.21H176.8M175 491.94H176.8M175 488.66H176.8M175 485.39H176.8M173.6 482.12H176.8M175 478.84H176.8M175 475.57H176.8M175 472.3H176.8M173.6 469.02H176.8M175 465.75H176.8M175 462.48H176.8M175 459.21H176.8M173.6 455.93H176.8M175 452.66H176.8M175 449.39H176.8M175 446.11H176.8M173.6 442.84H176.8M175 439.57H176.8M175 436.3H176.8M175 433.02H176.8M173.6 429.75H176.8" stroke="#333" stroke-width="0.6" fill="none"/>
<text transform="translate(164.8 469) rotate(-90)" font-size="4.95" font-weight="bold" text-anchor="middle" textLength="15.68" lengthAdjust="spacingAndGlyphs" fill="#222" stroke="#222" stroke-width="0.3">Counts</text>
<path d="M177.8 503.62 178.24 501.89 178.96 499.05 179.68 498.99 180.4 495 181.12 496.72 181.84 493.4 182.56 489.35 183.28 491.73 184 485.78 184.72 488.12 185.44 482.69 186.16 479.39 186.88 479.53 187.6 473.34 188.32 471.73 189.04 475.25 189.76 473.36 190.48 471.79 191.2 476.92 191.92 477.11 192.64 477.99 193.36 475.07 194.08 479.02 194.8 478.85 195.52 476.37 196.24 478.32 196.96 478.22 197.68 482.85 198.4 485.59 199.12 485.58 199.84 489.7 200.56 486.76 201.28 490.36 202 492.26 202.72 495.48 203.44 498.23 204.16 498.88 204.88 501.06 205.6 501.95 206.32 503.03 207.04 503.97 207.76 503.91 208.48 505.76 209.2 505.25 209.92 506.29 210.64 506.71 211.36 507.09 212.08 507.3 212.8 507.43 213.52 507.58 214.24 507.88 214.96 507.85 215.68 507.92 216.4 508.11 217.12 508.22 217.84 508.21 218.56 508.2 219.28 508.21 220 508.2 220.72 508.28 221.44 508.3 222.16 508.29 222.88 508.3 223.6 508.28 224.32 508.28 225.04 508.3 225.76 508.29 226.48 508.3 227.2 508.3 227.92 508.3 228.64 508.27 229.36 508.29 230.08 508.24 230.8 508.29 231.52 508.27 232.24 508.3 232.96 508.3 233.68 508.3 234.4 508.3 235.12 508.29 235.84 508.3 236.56 508.28 237.28 508.3 238 508.3 238.72 508.3 239.44 508.3 240.16 508.28 240.88 508.3 241.6 508.3 242.32 508.3 243.04 508.26 243.76 508.3 244.48 508.3 245.2 508.3 245.92 508.29 246.64 508.3 247.36 508.3 248.08 508.27 248.8 508.3 249.52 508.3 250.24 508.3 250.96 508.3 251.68 508.3 252.4 508.3 253.12 508.28 253.84 508.3 254.56 508.29 255.28 508.28 256 508.3 256.72 508.3 257.44 508.29 258.16 508.29 258.88 508.27 259.6 508.29 260.32 508.3 261.04 508.3 261.76 508.28 262.48 508.3 263.2 508.29 263.92 508.3 264.64 508.29 265.36 508.27 266.08 508.28 266.8 508.3 267.52 508.3 268.24 508.28" stroke="#111111" stroke-width="0.95" fill="none" stroke-linejoin="round"/>
<path d="M177.8 504.16 178.24 502.89 178.96 500.4 179.68 498.46 180.4 498.01 181.12 495.92 181.84 490.58 182.56 492.21 183.28 487.98 184 487.35 184.72 482.18 185.44 479.31 186.16 475.67 186.88 473.69 187.6 478.26 188.32 476.06 189.04 475.5 189.76 474.58 190.48 472.3 191.2 473.65 191.92 476.41 192.64 476.9 193.36 467.92 194.08 481.31 194.8 472.28 195.52 483.48 196.24 484.83 196.96 484.89 197.68 486.77 198.4 488.08 199.12 491.04 199.84 492.26 200.56 492.86 201.28 493.76 202 496.21 202.72 497.02 203.44 499.44 204.16 498.87 204.88 504.21 205.6 503.2 206.32 503.66 207.04 504.66 207.76 505.09 208.48 505.68 209.2 505.83 209.92 506.71 210.64 507.03 211.36 507.46 212.08 507.48 212.8 507.72 213.52 507.78 214.24 507.96 214.96 508 215.68 508.12 216.4 508.2 217.12 508.21 217.84 508.23 218.56 508.22 219.28 508.26 220 508.26 220.72 508.25 221.44 508.27 222.16 508.3 222.88 508.29 223.6 508.3 224.32 508.28 225.04 508.3 225.76 508.3 226.48 508.28 227.2 508.3 227.92 508.3 228.64 508.29 229.36 508.27 230.08 508.3 230.8 508.3 231.52 508.29 232.24 508.26 232.96 508.3 233.68 508.3 234.4 508.3 235.12 508.3 235.84 508.3 236.56 508.29 237.28 508.3 238 508.29 238.72 508.25 239.44 508.3 240.16 508.3 240.88 508.3 241.6 508.3 242.32 508.3 243.04 508.3 243.76 508.29 244.48 508.3 245.2 508.3 245.92 508.3 246.64 508.28 247.36 508.3 248.08 508.29 248.8 508.3 249.52 508.3 250.24 508.3 250.96 508.3 251.68 508.29 252.4 508.3 253.12 508.28 253.84 508.28 254.56 508.3 255.28 508.25 256 508.3 256.72 508.29 257.44 508.3 258.16 508.3 258.88 508.28 259.6 508.29 260.32 508.3 261.04 508.29 261.76 508.29 262.48 508.3 263.2 508.3 263.92 508.3 264.64 508.3 265.36 508.3 266.08 508.27 266.8 508.27 267.52 508.3 268.24 508.3" stroke="#19e62d" stroke-width="0.95" fill="none" stroke-linejoin="round"/>
<path d="M177.8 507.35 178.24 506.59 178.96 506.46 179.68 505.57 180.4 505.39 181.12 505.91 181.84 503.53 182.56 503.55 183.28 501.02 184 499.27 184.72 496.74 185.44 497.1 186.16 496.45 186.88 493.22 187.6 491.28 188.32 494.5 189.04 489.33 189.76 488.64 190.48 481.72 191.2 481.61 191.92 478.9 192.64 475.23 193.36 475.03 194.08 479.97 194.8 476.05 195.52 470.07 196.24 473.44 196.96 473.98 197.68 467.79 198.4 468.39 199.12 473.14 199.84 473.99 200.56 470.65 201.28 477.04 202 480.43 202.72 477.75 203.44 478.24 204.16 487.97 204.88 488.72 205.6 487.95 206.32 491.82 207.04 492.78 207.76 495.3 208.48 494.62 209.2 501.76 209.92 500.68 210.64 503.23 211.36 505.09 212.08 505.12 212.8 505.67 213.52 505.68 214.24 506.62 214.96 507.21 215.68 507.5 216.4 507.53 217.12 507.68 217.84 508.02 218.56 508.01 219.28 508.09 220 508.17 220.72 508.22 221.44 508.24 222.16 508.27 222.88 508.3 223.6 508.29 224.32 508.3 225.04 508.3 225.76 508.3 226.48 508.27 227.2 508.3 227.92 508.21 228.64 508.23 229.36 508.3 230.08 508.24 230.8 508.3 231.52 508.3 232.24 508.3 232.96 508.3 233.68 508.29 234.4 508.24 235.12 508.3 235.84 508.3 236.56 508.27 237.28 508.3 238 508.26 238.72 508.27 239.44 508.25 240.16 508.27 240.88 508.29 241.6 508.29 242.32 508.3 243.04 508.3 243.76 508.29 244.48 508.3 245.2 508.3 245.92 508.3 246.64 508.26 247.36 508.3 248.08 508.29 248.8 508.29 249.52 508.3 250.24 508.3 250.96 508.3 251.68 508.3 252.4 508.29 253.12 508.3 253.84 508.3 254.56 508.28 255.28 508.3 256 508.3 256.72 508.3 257.44 508.27 258.16 508.3 258.88 508.3 259.6 508.3 260.32 508.3 261.04 508.27 261.76 508.3 262.48 508.3 263.2 508.3 263.92 508.3 264.64 508.29 265.36 508.3 266.08 508.3 266.8 508.3 267.52 508.27 268.24 508.27" stroke="#f0329a" stroke-width="0.95" fill="none" stroke-linejoin="round"/>
<path d="M177.8 507.52 178.24 507.24 178.96 506.58 179.68 505.86 180.4 506.06 181.12 504.33 181.84 503.86 182.56 503.15 183.28 502.39 184 500.24 184.72 499.58 185.44 497.92 186.16 499.25 186.88 495.19 187.6 490.24 188.32 490.71 189.04 491.57 189.76 488.51 190.48 481.61 191.2 477.03 191.92 482.71 192.64 475.52 193.36 481.48 194.08 474.91 194.8 468.62 195.52 477.83 196.24 468.84 196.96 473.48 197.68 469.81 198.4 468.88 199.12 470.67 199.84 472.67 200.56 468.56 201.28 471.22 202 475.45 202.72 484.91 203.44 483.44 204.16 487.69 204.88 489.05 205.6 489.59 206.32 488.32 207.04 493.76 207.76 493.33 208.48 497.14 209.2 498.21 209.92 498.38 210.64 502 211.36 503.58 212.08 504.99 212.8 504.94 213.52 505.47 214.24 505.68 214.96 506.98 215.68 507.62 216.4 507.42 217.12 507.68 217.84 507.9 218.56 508.07 219.28 508.05 220 508.19 220.72 508.17 221.44 508.24 222.16 508.24 222.88 508.25 223.6 508.3 224.32 508.28 225.04 508.3 225.76 508.3 226.48 508.26 227.2 508.27 227.92 508.29 228.64 508.29 229.36 508.27 230.08 508.3 230.8 508.25 231.52 508.3 232.24 508.3 232.96 508.3 233.68 508.3 234.4 508.29 235.12 508.25 235.84 508.3 236.56 508.3 237.28 508.3 238 508.3 238.72 508.23 239.44 508.26 240.16 508.3 240.88 508.3 241.6 508.3 242.32 508.3 243.04 508.28 243.76 508.26 244.48 508.3 245.2 508.3 245.92 508.28 246.64 508.3 247.36 508.23 248.08 508.26 248.8 508.3 249.52 508.27 250.24 508.3 250.96 508.29 251.68 508.3 252.4 508.3 253.12 508.29 253.84 508.3 254.56 508.3 255.28 508.28 256 508.3 256.72 508.29 257.44 508.29 258.16 508.3 258.88 508.3 259.6 508.3 260.32 508.3 261.04 508.3 261.76 508.28 262.48 508.3 263.2 508.29 263.92 508.3 264.64 508.29 265.36 508.3 266.08 508.3 266.8 508.27 267.52 508.3 268.24 508.27" stroke="#2aa5ea" stroke-width="0.95" fill="none" stroke-linejoin="round"/>
<path d="M176.8 429.75V508.3" stroke="#1f83c4" stroke-width="1.3"/>
<rect x="188.6" y="434.2" width="2.2" height="2.2" rx="0.6" fill="#111111"/>
<text x="196.7" y="437.9" font-size="7.15" font-weight="bold" stroke="#000" stroke-width="0.2">Con</text>
<rect x="188.6" y="442" width="2.2" height="2.2" rx="0.6" fill="#19e62d"/>
<text x="196.7" y="445.7" font-size="7.15" font-weight="bold" stroke="#000" stroke-width="0.2">NAC</text>
<rect x="188.6" y="450.1" width="2.2" height="2.2" rx="0.6" fill="#f0329a"/>
<text x="196.7" y="453.8" font-size="7.15" font-weight="bold" stroke="#000" stroke-width="0.2">IR+JNC-1043</text>
<rect x="188.6" y="457.6" width="2.2" height="2.2" rx="0.6" fill="#2aa5ea"/>
<text x="196.7" y="461.3" font-size="7.15" font-weight="bold" stroke="#000" stroke-width="0.2">IR+JNC-1043+NAC</text>
<rect x="437.6" y="292" width="92.8" height="82.2" fill="#fff" stroke="#4a4a4a" stroke-width="0.85"/>
<path d="M437.6 374.2H530.4" stroke="#111" stroke-width="0.9"/>
<path d="M437.6 374.2v2.6M445.77 374.2v1.5M450.55 374.2v1.5M453.95 374.2v1.5M456.58 374.2v1.5M458.73 374.2v1.5M460.54 374.2v1.5M462.12 374.2v1.5M463.51 374.2v1.5M464.75 374.2v2.6M472.92 374.2v1.5M477.7 374.2v1.5M481.1 374.2v1.5M483.73 374.2v1.5M485.88 374.2v1.5M487.69 374.2v1.5M489.27 374.2v1.5M490.66 374.2v1.5M491.9 374.2v2.6M500.07 374.2v1.5M504.85 374.2v1.5M508.25 374.2v1.5M510.88 374.2v1.5M513.03 374.2v1.5M514.84 374.2v1.5M516.42 374.2v1.5M517.81 374.2v1.5M519.05 374.2v2.6M527.22 374.2v1.5" stroke="#111" stroke-width="0.7" fill="none"/>
<text x="438.5" y="382.7" font-size="6.3" font-weight="bold" text-anchor="end" textLength="5.47" lengthAdjust="spacingAndGlyphs" fill="#222" stroke="#222" stroke-width="0.3">10</text>
<text x="438.8" y="380.05" font-size="5.8" font-weight="bold" text-anchor="start" textLength="2.84" lengthAdjust="spacingAndGlyphs" fill="#222" stroke="#222" stroke-width="0.3">0</text>
<text x="465.65" y="382.7" font-size="6.3" font-weight="bold" text-anchor="end" textLength="5.47" lengthAdjust="spacingAndGlyphs" fill="#222" stroke="#222" stroke-width="0.3">10</text>
<text x="465.95" y="380.05" font-size="5.8" font-weight="bold" text-anchor="start" textLength="2.84" lengthAdjust="spacingAndGlyphs" fill="#222" stroke="#222" stroke-width="0.3">1</text>
<text x="492.8" y="382.7" font-size="6.3" font-weight="bold" text-anchor="end" textLength="5.47" lengthAdjust="spacingAndGlyphs" fill="#222" stroke="#222" stroke-width="0.3">10</text>
<text x="493.1" y="380.05" font-size="5.8" font-weight="bold" text-anchor="start" textLength="2.84" lengthAdjust="spacingAndGlyphs" fill="#222" stroke="#222" stroke-width="0.3">2</text>
<text x="519.95" y="382.7" font-size="6.3" font-weight="bold" text-anchor="end" textLength="5.47" lengthAdjust="spacingAndGlyphs" fill="#222" stroke="#222" stroke-width="0.3">10</text>
<text x="520.25" y="380.05" font-size="5.8" font-weight="bold" text-anchor="start" textLength="2.84" lengthAdjust="spacingAndGlyphs" fill="#222" stroke="#222" stroke-width="0.3">3</text>
<text x="482.9" y="388.1" font-size="5.9" font-weight="bold" text-anchor="middle" textLength="15.71" lengthAdjust="spacingAndGlyphs" fill="#222" stroke="#222" stroke-width="0.3">FL2-H</text>
<text transform="translate(431.45 374.2) rotate(-90)" font-size="5.8" font-weight="bold" text-anchor="middle" fill="#222" stroke="#222" stroke-width="0.3">0</text>
<text transform="translate(431.45 360.5) rotate(-90)" font-size="5.8" font-weight="bold" text-anchor="middle" fill="#222" stroke="#222" stroke-width="0.3">20</text>
<text transform="translate(431.45 346.8) rotate(-90)" font-size="5.8" font-weight="bold" text-anchor="middle" fill="#222" stroke="#222" stroke-width="0.3">40</text>
<text transform="translate(431.45 333.1) rotate(-90)" font-size="5.8" font-weight="bold" text-anchor="middle" fill="#222" stroke="#222" stroke-width="0.3">60</text>
<text transform="translate(431.45 319.4) rotate(-90)" font-size="5.8" font-weight="bold" text-anchor="middle" fill="#222" stroke="#222" stroke-width="0.3">80</text>
<text transform="translate(431.45 305.7) rotate(-90)" font-size="5.8" font-weight="bold" text-anchor="middle" fill="#222" stroke="#222" stroke-width="0.3">100</text>
<text transform="translate(431.45 292) rotate(-90)" font-size="5.8" font-weight="bold" text-anchor="middle" fill="#222" stroke="#222" stroke-width="0.3">120</text>
<path d="M434.4 374.2H437.6M435.8 370.77H437.6M435.8 367.35H437.6M435.8 363.93H437.6M434.4 360.5H437.6M435.8 357.07H437.6M435.8 353.65H437.6M435.8 350.23H437.6M434.4 346.8H437.6M435.8 343.38H437.6M435.8 339.95H437.6M435.8 336.53H437.6M434.4 333.1H437.6M435.8 329.68H437.6M435.8 326.25H437.6M435.8 322.83H437.6M434.4 319.4H437.6M435.8 315.97H437.6M435.8 312.55H437.6M435.8 309.12H437.6M434.4 305.7H437.6M435.8 302.27H437.6M435.8 298.85H437.6M435.8 295.43H437.6M434.4 292H437.6" stroke="#333" stroke-width="0.6" fill="none"/>
<text transform="translate(425.3 332.8) rotate(-90)" font-size="5.67" font-weight="bold" text-anchor="middle" textLength="17.97" lengthAdjust="spacingAndGlyphs" fill="#222" stroke="#222" stroke-width="0.3">Counts</text>
<path d="M438.6 360.23 439.04 359.05 439.76 357.45 440.48 353.93 441.2 348.46 441.92 343.12 442.64 340.8 443.36 339.18 444.08 338.31 444.8 332.75 445.52 334.34 446.24 333.04 446.96 327.79 447.68 327.75 448.4 329.77 449.12 332.93 449.84 326.7 450.56 335.39 451.28 334.64 452 333.55 452.72 337.44 453.44 338.91 454.16 341.32 454.88 347.59 455.6 343.25 456.32 342.99 457.04 345.01 457.76 346.46 458.48 354.09 459.2 349.63 459.92 350.9 460.64 355.24 461.36 353.81 462.08 357.53 462.8 361.04 463.52 360.13 464.24 363.48 464.96 361.43 465.68 363.53 466.4 361.36 467.12 363.94 467.84 364.35 468.56 363.89 469.28 362.93 470 367.53 470.72 363.99 471.44 366.34 472.16 365.49 472.88 366.47 473.6 364.16 474.32 363.69 475.04 365.44 475.76 366.92 476.48 365.3 477.2 366.15 477.92 365.13 478.64 365.35 479.36 365.12 480.08 366.48 480.8 365.48 481.52 365.74 482.24 364.65 482.96 364.92 483.68 366.07 484.4 366.57 485.12 366.97 485.84 367.34 486.56 366.54 487.28 367.66 488 367.31 488.72 367.77 489.44 368.45 490.16 368.25 490.88 366.88 491.6 367.09 492.32 369.68 493.04 368.49 493.76 368.73 494.48 368.64 495.2 368.83 495.92 370.12 496.64 368.96 497.36 370.23 498.08 369.76 498.8 370.52 499.52 371.75 500.24 371 500.96 370.53 501.68 371.1 502.4 371.14 503.12 371.59 503.84 372.03 504.56 371.83 505.28 371.99 506 372.2 506.72 372.69 507.44 373.01 508.16 372.85 508.88 372.92 509.6 372.91 510.32 373.06 511.04 373.07 511.76 373.43 512.48 373.51 513.2 373.38 513.92 373.33 514.64 373.4 515.36 373.71 516.08 373.67 516.8 373.8 517.52 373.75 518.24 373.86 518.96 373.88 519.68 373.82 520.4 373.93 521.12 373.93 521.84 374.04 522.56 373.93 523.28 374.07 524 374.17 524.72 374.03 525.44 374.07 526.16 374.11 526.88 374.11 527.6 374.1 528.32 374.15 529.04 374.13 529.76 374.2" stroke="#111111" stroke-width="0.95" fill="none" stroke-linejoin="round"/>
<path d="M438.6 328.99 439.04 363.9 439.76 357.99 440.48 350.94 441.2 351.73 441.92 343.68 442.64 352.82 443.36 339.49 444.08 333.5 444.8 330.71 445.52 330.22 446.24 324.61 446.96 329.4 447.68 335.03 448.4 325.85 449.12 331.34 449.84 335.72 450.56 331.8 451.28 331.86 452 331.19 452.72 336.5 453.44 338.28 454.16 338.97 454.88 339.87 455.6 345.86 456.32 338.67 457.04 349.71 457.76 349.96 458.48 352.13 459.2 351.24 459.92 352.47 460.64 355.29 461.36 358.57 462.08 357.71 462.8 358.43 463.52 360.64 464.24 359.46 464.96 360.48 465.68 361.72 466.4 363.14 467.12 362.08 467.84 365.29 468.56 364.09 469.28 363.92 470 365.47 470.72 364.19 471.44 364.62 472.16 364.97 472.88 364.05 473.6 366.35 474.32 365.39 475.04 364.18 475.76 364.68 476.48 366.67 477.2 366.7 477.92 366.33 478.64 367.67 479.36 365.23 480.08 365.78 480.8 367.48 481.52 365.81 482.24 367.3 482.96 366.3 483.68 366.63 484.4 365.86 485.12 364.82 485.84 368.62 486.56 367.95 487.28 367.12 488 366.51 488.72 366.68 489.44 367.41 490.16 366.81 490.88 368.24 491.6 367.47 492.32 368.1 493.04 369.19 493.76 369.54 494.48 369.3 495.2 370.67 495.92 369.5 496.64 371.35 497.36 369.98 498.08 370.76 498.8 370.16 499.52 371.03 500.24 371.32 500.96 371.25 501.68 371.57 502.4 371.02 503.12 371.58 503.84 371.54 504.56 371.85 505.28 372.52 506 372.53 506.72 372.03 507.44 372.76 508.16 372.88 508.88 372.86 509.6 373.08 510.32 372.98 511.04 372.91 511.76 373.07 512.48 373.39 513.2 373.47 513.92 373.46 514.64 373.68 515.36 373.67 516.08 373.43 516.8 373.61 517.52 373.73 518.24 373.85 518.96 373.72 519.68 373.88 520.4 373.71 521.12 373.89 521.84 373.93 522.56 374.08 523.28 374 524 374.04 524.72 374.03 525.44 374.08 526.16 374.14 526.88 374.16 527.6 374.14 528.32 374.15 529.04 374.12 529.76 374.16" stroke="#19e62d" stroke-width="0.95" fill="none" stroke-linejoin="round"/>
<path d="M438.6 370.91 439.04 372.23 439.76 372.12 440.48 371.65 441.2 371.69 441.92 371.75 442.64 370.97 443.36 370.39 444.08 370.86 444.8 370.92 445.52 369.88 446.24 368.02 446.96 367.9 447.68 367.31 448.4 363.98 449.12 364.57 449.84 364.17 450.56 361.47 451.28 362.7 452 359.65 452.72 359.39 453.44 357.45 454.16 355.62 454.88 356.26 455.6 352.47 456.32 353.17 457.04 349.29 457.76 347.23 458.48 351.75 459.2 349.36 459.92 343.22 460.64 342.13 461.36 337.06 462.08 339.83 462.8 345.25 463.52 337.24 464.24 334.52 464.96 341.07 465.68 339.91 466.4 344.13 467.12 339.72 467.84 340.85 468.56 344.43 469.28 340.63 470 343.94 470.72 342.27 471.44 347.09 472.16 355.49 472.88 351.03 473.6 351.36 474.32 355.28 475.04 355.48 475.76 359.82 476.48 357.94 477.2 360.05 477.92 365.48 478.64 360.4 479.36 361.1 480.08 362.51 480.8 363.92 481.52 362.53 482.24 363.16 482.96 364.3 483.68 363.91 484.4 365.41 485.12 363.97 485.84 365.04 486.56 361.33 487.28 362.14 488 362.5 488.72 364.22 489.44 363.84 490.16 362.61 490.88 365.09 491.6 362.57 492.32 365.31 493.04 366.37 493.76 362.56 494.48 362.7 495.2 364.41 495.92 362.86 496.64 363.92 497.36 366.95 498.08 366.5 498.8 365.47 499.52 363.91 500.24 363.48 500.96 367.46 501.68 367.09 502.4 364.44 503.12 366.79 503.84 367.05 504.56 365.75 505.28 366.77 506 366.7 506.72 366.78 507.44 369.04 508.16 367.65 508.88 367.55 509.6 370.04 510.32 368.18 511.04 368.9 511.76 370.12 512.48 369.36 513.2 369.78 513.92 370.82 514.64 370.71 515.36 369.75 516.08 370.72 516.8 371.49 517.52 371.63 518.24 371.09 518.96 371.64 519.68 372.03 520.4 372.14 521.12 372.14 521.84 372.31 522.56 372.08 523.28 372.57 524 372.88 524.72 373.28 525.44 373.11 526.16 372.92 526.88 372.83 527.6 373.28 528.32 373.51 529.04 373.49 529.76 373.44" stroke="#f0329a" stroke-width="0.95" fill="none" stroke-linejoin="round"/>
<path d="M438.6 368.26 439.04 367.44 439.76 365.22 440.48 367.26 441.2 365.85 441.92 365.93 442.64 364.61 443.36 363.91 444.08 362.01 444.8 359.77 445.52 358.83 446.24 358.58 446.96 357.98 447.68 357.72 448.4 352.82 449.12 356.26 449.84 353.18 450.56 346.56 451.28 355.1 452 349.94 452.72 347.52 453.44 340.36 454.16 348.9 454.88 349.11 455.6 339.89 456.32 333.09 457.04 345.92 457.76 338.09 458.48 334.83 459.2 336.04 459.92 339.9 460.64 336.61 461.36 334.98 462.08 336.51 462.8 340.75 463.52 336.36 464.24 336.09 464.96 337.23 465.68 341.95 466.4 339.73 467.12 345.63 467.84 350.8 468.56 352.85 469.28 359.8 470 356.54 470.72 362.12 471.44 359.77 472.16 360.78 472.88 358.21 473.6 361.76 474.32 361.06 475.04 362.45 475.76 364.7 476.48 360.94 477.2 362.47 477.92 362.05 478.64 362.57 479.36 364.46 480.08 361.93 480.8 361.13 481.52 360.79 482.24 362.76 482.96 365.38 483.68 364.1 484.4 362.25 485.12 363.88 485.84 362.35 486.56 366.52 487.28 363.98 488 361.49 488.72 362.57 489.44 363.24 490.16 365.9 490.88 365.63 491.6 365.44 492.32 365.41 493.04 365.33 493.76 364.38 494.48 364.94 495.2 365.85 495.92 364.99 496.64 366.76 497.36 368.37 498.08 368.11 498.8 369.02 499.52 369.01 500.24 369.17 500.96 368.89 501.68 369.22 502.4 368.47 503.12 369.33 503.84 369.17 504.56 369.38 505.28 369.2 506 372.04 506.72 370.13 507.44 370.73 508.16 371.68 508.88 370.47 509.6 370.88 510.32 371.16 511.04 372.04 511.76 372 512.48 372.17 513.2 371.72 513.92 371.77 514.64 371.87 515.36 372.8 516.08 372.68 516.8 373.12 517.52 372.93 518.24 373.11 518.96 373.21 519.68 373.29 520.4 373.25 521.12 373.58 521.84 373.58 522.56 373.46 523.28 373.81 524 373.85 524.72 373.72 525.44 373.81 526.16 373.67 526.88 373.92 527.6 373.8 528.32 373.91 529.04 373.93 529.76 373.93" stroke="#2aa5ea" stroke-width="0.95" fill="none" stroke-linejoin="round"/>
<path d="M437.6 292V374.2" stroke="#1f83c4" stroke-width="1.3"/>
<rect x="451.1" y="298" width="2.2" height="2.2" rx="0.6" fill="#111111"/>
<text x="459.9" y="301.7" font-size="7.15" font-weight="bold" stroke="#000" stroke-width="0.2">Con</text>
<rect x="451.1" y="306.3" width="2.2" height="2.2" rx="0.6" fill="#19e62d"/>
<text x="459.9" y="310" font-size="7.15" font-weight="bold" stroke="#000" stroke-width="0.2">NAC</text>
<rect x="451.1" y="314.3" width="2.2" height="2.2" rx="0.6" fill="#f0329a"/>
<text x="459.9" y="318" font-size="7.15" font-weight="bold" stroke="#000" stroke-width="0.2">IR+JNC-1043</text>
<rect x="451.1" y="322.3" width="2.2" height="2.2" rx="0.6" fill="#2aa5ea"/>
<text x="459.9" y="326" font-size="7.15" font-weight="bold" stroke="#000" stroke-width="0.2">IR+JNC-1043+NAC</text>
<rect x="443.1" y="428.5" width="92.8" height="83.7" fill="#fff" stroke="#4a4a4a" stroke-width="0.85"/>
<path d="M443.1 512.2H535.9" stroke="#111" stroke-width="0.9"/>
<path d="M443.1 512.2v2.6M451.18 512.2v1.5M455.9 512.2v1.5M459.25 512.2v1.5M461.85 512.2v1.5M463.98 512.2v1.5M465.77 512.2v1.5M467.33 512.2v1.5M468.7 512.2v1.5M469.93 512.2v2.6M478.01 512.2v1.5M482.73 512.2v1.5M486.08 512.2v1.5M488.68 512.2v1.5M490.81 512.2v1.5M492.6 512.2v1.5M494.16 512.2v1.5M495.53 512.2v1.5M496.76 512.2v2.6M504.84 512.2v1.5M509.56 512.2v1.5M512.91 512.2v1.5M515.51 512.2v1.5M517.64 512.2v1.5M519.43 512.2v1.5M520.99 512.2v1.5M522.36 512.2v1.5M523.59 512.2v2.6M531.67 512.2v1.5" stroke="#111" stroke-width="0.7" fill="none"/>
<text x="444" y="520.7" font-size="6.3" font-weight="bold" text-anchor="end" textLength="5.47" lengthAdjust="spacingAndGlyphs" fill="#222" stroke="#222" stroke-width="0.3">10</text>
<text x="444.3" y="518.05" font-size="5.8" font-weight="bold" text-anchor="start" textLength="2.84" lengthAdjust="spacingAndGlyphs" fill="#222" stroke="#222" stroke-width="0.3">0</text>
<text x="470.83" y="520.7" font-size="6.3" font-weight="bold" text-anchor="end" textLength="5.47" lengthAdjust="spacingAndGlyphs" fill="#222" stroke="#222" stroke-width="0.3">10</text>
<text x="471.13" y="518.05" font-size="5.8" font-weight="bold" text-anchor="start" textLength="2.84" lengthAdjust="spacingAndGlyphs" fill="#222" stroke="#222" stroke-width="0.3">1</text>
<text x="497.66" y="520.7" font-size="6.3" font-weight="bold" text-anchor="end" textLength="5.47" lengthAdjust="spacingAndGlyphs" fill="#222" stroke="#222" stroke-width="0.3">10</text>
<text x="497.96" y="518.05" font-size="5.8" font-weight="bold" text-anchor="start" textLength="2.84" lengthAdjust="spacingAndGlyphs" fill="#222" stroke="#222" stroke-width="0.3">2</text>
<text x="524.49" y="520.7" font-size="6.3" font-weight="bold" text-anchor="end" textLength="5.47" lengthAdjust="spacingAndGlyphs" fill="#222" stroke="#222" stroke-width="0.3">10</text>
<text x="524.79" y="518.05" font-size="5.8" font-weight="bold" text-anchor="start" textLength="2.84" lengthAdjust="spacingAndGlyphs" fill="#222" stroke="#222" stroke-width="0.3">3</text>
<text x="488.5" y="526.1" font-size="5.9" font-weight="bold" text-anchor="middle" textLength="15.71" lengthAdjust="spacingAndGlyphs" fill="#222" stroke="#222" stroke-width="0.3">FL2-H</text>
<text transform="translate(436.85 512.2) rotate(-90)" font-size="5.8" font-weight="bold" text-anchor="middle" fill="#222" stroke="#222" stroke-width="0.3">0</text>
<text transform="translate(436.85 498.25) rotate(-90)" font-size="5.8" font-weight="bold" text-anchor="middle" fill="#222" stroke="#222" stroke-width="0.3">20</text>
<text transform="translate(436.85 484.3) rotate(-90)" font-size="5.8" font-weight="bold" text-anchor="middle" fill="#222" stroke="#222" stroke-width="0.3">40</text>
<text transform="translate(436.85 470.35) rotate(-90)" font-size="5.8" font-weight="bold" text-anchor="middle" fill="#222" stroke="#222" stroke-width="0.3">60</text>
<text transform="translate(436.85 456.4) rotate(-90)" font-size="5.8" font-weight="bold" text-anchor="middle" fill="#222" stroke="#222" stroke-width="0.3">80</text>
<text transform="translate(436.85 442.45) rotate(-90)" font-size="5.8" font-weight="bold" text-anchor="middle" fill="#222" stroke="#222" stroke-width="0.3">100</text>
<text transform="translate(436.85 428.5) rotate(-90)" font-size="5.8" font-weight="bold" text-anchor="middle" fill="#222" stroke="#222" stroke-width="0.3">120</text>
<path d="M439.9 512.2H443.1M441.3 508.71H443.1M441.3 505.23H443.1M441.3 501.74H443.1M439.9 498.25H443.1M441.3 494.76H443.1M441.3 491.28H443.1M441.3 487.79H443.1M439.9 484.3H443.1M441.3 480.81H443.1M441.3 477.32H443.1M441.3 473.84H443.1M439.9 470.35H443.1M441.3 466.86H443.1M441.3 463.38H443.1M441.3 459.89H443.1M439.9 456.4H443.1M441.3 452.91H443.1M441.3 449.43H443.1M441.3 445.94H443.1M439.9 442.45H443.1M441.3 438.96H443.1M441.3 435.47H443.1M441.3 431.99H443.1M439.9 428.5H443.1" stroke="#333" stroke-width="0.6" fill="none"/>
<text transform="translate(429.5 470) rotate(-90)" font-size="5.67" font-weight="bold" text-anchor="middle" textLength="17.97" lengthAdjust="spacingAndGlyphs" fill="#222" stroke="#222" stroke-width="0.3">Counts</text>
<path d="M444.1 503.83 444.54 502.79 445.26 499.28 445.98 500.26 446.7 501.57 447.42 496.95 448.14 491.34 448.86 493.11 449.58 486.62 450.3 482.06 451.02 491.98 451.74 475.93 452.46 483.67 453.18 476.3 453.9 476.2 454.62 471.44 455.34 476.28 456.06 470.84 456.78 469.49 457.5 470.99 458.22 474.78 458.94 475.63 459.66 473.24 460.38 473.51 461.1 477.07 461.82 477.54 462.54 476.63 463.26 477.77 463.98 477.9 464.7 473.97 465.42 477.8 466.14 478.83 466.86 475.14 467.58 481.6 468.3 481.91 469.02 482.87 469.74 487.53 470.46 490.98 471.18 491.81 471.9 495.21 472.62 499.89 473.34 501.23 474.06 500.09 474.78 504.3 475.5 506.52 476.22 507 476.94 507.91 477.66 507.01 478.38 507.53 479.1 507.77 479.82 507.8 480.54 507.17 481.26 507.49 481.98 507.59 482.7 507.45 483.42 505.27 484.14 507.58 484.86 506.96 485.58 508.55 486.3 505.85 487.02 507.77 487.74 507.33 488.46 506.68 489.18 507.87 489.9 506.39 490.62 506.08 491.34 507.87 492.06 506.37 492.78 506.56 493.5 507.24 494.22 506.41 494.94 507.52 495.66 505.68 496.38 507.94 497.1 507.13 497.82 506.12 498.54 507.04 499.26 509 499.98 508.25 500.7 508.43 501.42 507.83 502.14 507.32 502.86 508.22 503.58 507.75 504.3 506.85 505.02 507.98 505.74 507.31 506.46 506.37 507.18 508.05 507.9 508.05 508.62 508.46 509.34 508.4 510.06 508.21 510.78 508.96 511.5 508.51 512.22 509.42 512.94 508.62 513.66 509.15 514.38 509.2 515.1 509.59 515.82 509.91 516.54 509.7 517.26 510.11 517.98 509.81 518.7 510.13 519.42 510.89 520.14 510.19 520.86 510.19 521.58 511 522.3 510.81 523.02 511.32 523.74 510.61 524.46 510.45 525.18 510.88 525.9 511.1 526.62 511.47 527.34 511.44 528.06 510.89 528.78 511.71 529.5 511.44 530.22 511.21 530.94 511.57 531.66 511.45 532.38 511.54 533.1 511.71 533.82 511.8 534.54 511.56 535.26 511.86" stroke="#111111" stroke-width="0.95" fill="none" stroke-linejoin="round"/>
<path d="M444.1 481.59 444.54 478.86 445.26 471.24 445.98 472 446.7 466.56 447.42 460.84 448.14 462.83 448.86 467.15 449.58 454.85 450.3 466.44 451.02 464.71 451.74 459.62 452.46 455.26 453.18 463 453.9 462.31 454.62 462.88 455.34 468.72 456.06 476.13 456.78 473.58 457.5 471.28 458.22 487.71 458.94 488.26 459.66 493.99 460.38 498.16 461.1 494.63 461.82 499.31 462.54 498.95 463.26 503.28 463.98 503.55 464.7 508.16 465.42 507.6 466.14 507.77 466.86 509.44 467.58 508.95 468.3 508.52 469.02 508.69 469.74 509.81 470.46 509.45 471.18 509.68 471.9 509 472.62 509.27 473.34 509.58 474.06 509.04 474.78 508.91 475.5 510.36 476.22 509.22 476.94 508.97 477.66 509.03 478.38 508.8 479.1 509.16 479.82 509.56 480.54 508.88 481.26 508.97 481.98 509.22 482.7 508.97 483.42 508.56 484.14 509.32 484.86 508.81 485.58 508.1 486.3 508.78 487.02 508.93 487.74 508.71 488.46 507.66 489.18 509.12 489.9 508.8 490.62 507.72 491.34 509.55 492.06 509.35 492.78 508.9 493.5 508.23 494.22 509.01 494.94 509.09 495.66 510.1 496.38 509.49 497.1 509.82 497.82 509.6 498.54 508.91 499.26 509.44 499.98 510.16 500.7 510.18 501.42 509.85 502.14 509.41 502.86 510.89 503.58 510.19 504.3 509.13 505.02 510.04 505.74 510.62 506.46 510.36 507.18 509.9 507.9 510.93 508.62 510.69 509.34 509.78 510.06 510.76 510.78 510.9 511.5 511.18 512.22 510.88 512.94 510.91 513.66 510.99 514.38 511.29 515.1 511.27 515.82 511.41 516.54 511.24 517.26 511.08 517.98 511.38 518.7 511.41 519.42 511.35 520.14 511.56 520.86 511.76 521.58 511.46 522.3 511.63 523.02 511.51 523.74 511.73 524.46 511.62 525.18 511.82 525.9 511.89 526.62 512 527.34 511.79 528.06 512.01 528.78 511.94 529.5 511.93 530.22 511.98 530.94 511.84 531.66 512.08 532.38 512.11 533.1 512.06 533.82 512 534.54 512.01 535.26 512.13" stroke="#19e62d" stroke-width="0.95" fill="none" stroke-linejoin="round"/>
<path d="M444.1 508.85 444.54 507.61 445.26 506.77 445.98 508.98 446.7 506.05 447.42 504.41 448.14 506.06 448.86 503.46 449.58 502.77 450.3 499.45 451.02 500.49 451.74 498.94 452.46 497.25 453.18 496.74 453.9 489.76 454.62 491.5 455.34 489.85 456.06 490.13 456.78 485.01 457.5 489.19 458.22 483.96 458.94 482.54 459.66 480.96 460.38 481.63 461.1 476.04 461.82 481.94 462.54 477.42 463.26 476.24 463.98 478.77 464.7 478.33 465.42 469.68 466.14 468.33 466.86 476.72 467.58 470.6 468.3 474.39 469.02 466.75 469.74 480.22 470.46 480.83 471.18 480.13 471.9 483.06 472.62 486.98 473.34 482.58 474.06 488.6 474.78 491.86 475.5 496.35 476.22 493.39 476.94 498.42 477.66 502.86 478.38 503.68 479.1 503.29 479.82 500.81 480.54 503.19 481.26 505.85 481.98 505.4 482.7 506.28 483.42 507.53 484.14 504.44 484.86 504.27 485.58 504.54 486.3 505.98 487.02 504.28 487.74 504.92 488.46 505.47 489.18 506.08 489.9 504.5 490.62 506.11 491.34 504.07 492.06 505.56 492.78 506.49 493.5 506.12 494.22 505.2 494.94 503.32 495.66 505.4 496.38 505.55 497.1 505.77 497.82 506.67 498.54 504.61 499.26 505.3 499.98 504.85 500.7 506.38 501.42 505.82 502.14 505.11 502.86 507.88 503.58 506.53 504.3 506.07 505.02 506.79 505.74 505.57 506.46 506.79 507.18 505.93 507.9 507.08 508.62 507.7 509.34 508.08 510.06 508.88 510.78 508.75 511.5 508.85 512.22 508.44 512.94 508.19 513.66 508.35 514.38 509.03 515.1 508.14 515.82 509.64 516.54 509.75 517.26 509.08 517.98 509.67 518.7 509.41 519.42 509.8 520.14 510.15 520.86 509.84 521.58 509.28 522.3 510.66 523.02 510.12 523.74 510.94 524.46 511 525.18 510.51 525.9 511.29 526.62 511.03 527.34 510.85 528.06 510.64 528.78 511.24 529.5 511.44 530.22 511.29 530.94 511.68 531.66 511.29 532.38 511.54 533.1 511.55 533.82 511.57 534.54 511.64 535.26 511.68" stroke="#f0329a" stroke-width="0.95" fill="none" stroke-linejoin="round"/>
<path d="M444.1 509.15 444.54 509.32 445.26 507.19 445.98 505.68 446.7 504.99 447.42 502.96 448.14 502.85 448.86 501.75 449.58 499.68 450.3 499.27 451.02 498.58 451.74 495.51 452.46 493.36 453.18 492.19 453.9 494.07 454.62 493.72 455.34 492.3 456.06 485.94 456.78 481.36 457.5 480.31 458.22 476.56 458.94 474.47 459.66 478.31 460.38 480.81 461.1 473.13 461.82 472.98 462.54 467.69 463.26 477.4 463.98 471.68 464.7 470.97 465.42 478.21 466.14 478.18 466.86 475.55 467.58 474.28 468.3 483.39 469.02 484.87 469.74 486.48 470.46 483.81 471.18 487.65 471.9 492.08 472.62 486.96 473.34 493.94 474.06 496.32 474.78 496.54 475.5 498.52 476.22 499.79 476.94 499.85 477.66 499.08 478.38 501.61 479.1 502.13 479.82 501.67 480.54 502.5 481.26 502.59 481.98 504.76 482.7 504.94 483.42 505.05 484.14 503.12 484.86 505.61 485.58 504.09 486.3 506.15 487.02 505.42 487.74 504.42 488.46 506.04 489.18 505.81 489.9 504.57 490.62 506.34 491.34 504.23 492.06 504.85 492.78 505.74 493.5 506.94 494.22 507.06 494.94 505.71 495.66 505.8 496.38 507.23 497.1 505.73 497.82 506.46 498.54 506.14 499.26 506.44 499.98 504.99 500.7 508.56 501.42 506.85 502.14 505.54 502.86 506.4 503.58 507.65 504.3 507.47 505.02 506.42 505.74 506.96 506.46 507.58 507.18 507.12 507.9 507.5 508.62 508.08 509.34 506.5 510.06 507.76 510.78 507.34 511.5 508.66 512.22 509.51 512.94 508.73 513.66 508.41 514.38 508.83 515.1 509.38 515.82 509.24 516.54 508.89 517.26 509.94 517.98 509.6 518.7 509.19 519.42 509.58 520.14 510.53 520.86 509.66 521.58 510.69 522.3 511.12 523.02 510.72 523.74 510.4 524.46 510.86 525.18 510.75 525.9 510.73 526.62 511.07 527.34 511.48 528.06 511.8 528.78 511.35 529.5 511.35 530.22 511.22 530.94 511.57 531.66 511.26 532.38 511.86 533.1 511.46 533.82 511.81 534.54 511.48 535.26 511.75" stroke="#2aa5ea" stroke-width="0.95" fill="none" stroke-linejoin="round"/>
<path d="M443.1 428.5V512.2" stroke="#1f83c4" stroke-width="1.3"/>
<rect x="451.1" y="433.7" width="2.2" height="2.2" rx="0.6" fill="#111111"/>
<text x="459.2" y="437.4" font-size="7.15" font-weight="bold" stroke="#000" stroke-width="0.2">Con</text>
<rect x="451.1" y="441.8" width="2.2" height="2.2" rx="0.6" fill="#19e62d"/>
<text x="459.2" y="445.5" font-size="7.15" font-weight="bold" stroke="#000" stroke-width="0.2">NAC</text>
<rect x="451.1" y="449.5" width="2.2" height="2.2" rx="0.6" fill="#f0329a"/>
<text x="459.2" y="453.2" font-size="7.15" font-weight="bold" stroke="#000" stroke-width="0.2">IR+JNC-1043</text>
<rect x="451.1" y="456.8" width="2.2" height="2.2" rx="0.6" fill="#2aa5ea"/>
<text x="459.2" y="460.5" font-size="7.15" font-weight="bold" stroke="#000" stroke-width="0.2">IR+JNC-1043+NAC</text>
<text x="5.4" y="13.8" class="pl">(a)</text>
<text x="280.2" y="13.8" class="pl">(b)</text>
<text x="7.0" y="280.2" class="pl">(c)</text>
<text x="281.6" y="280.2" class="pl">(d)</text>
</svg></body></html>
